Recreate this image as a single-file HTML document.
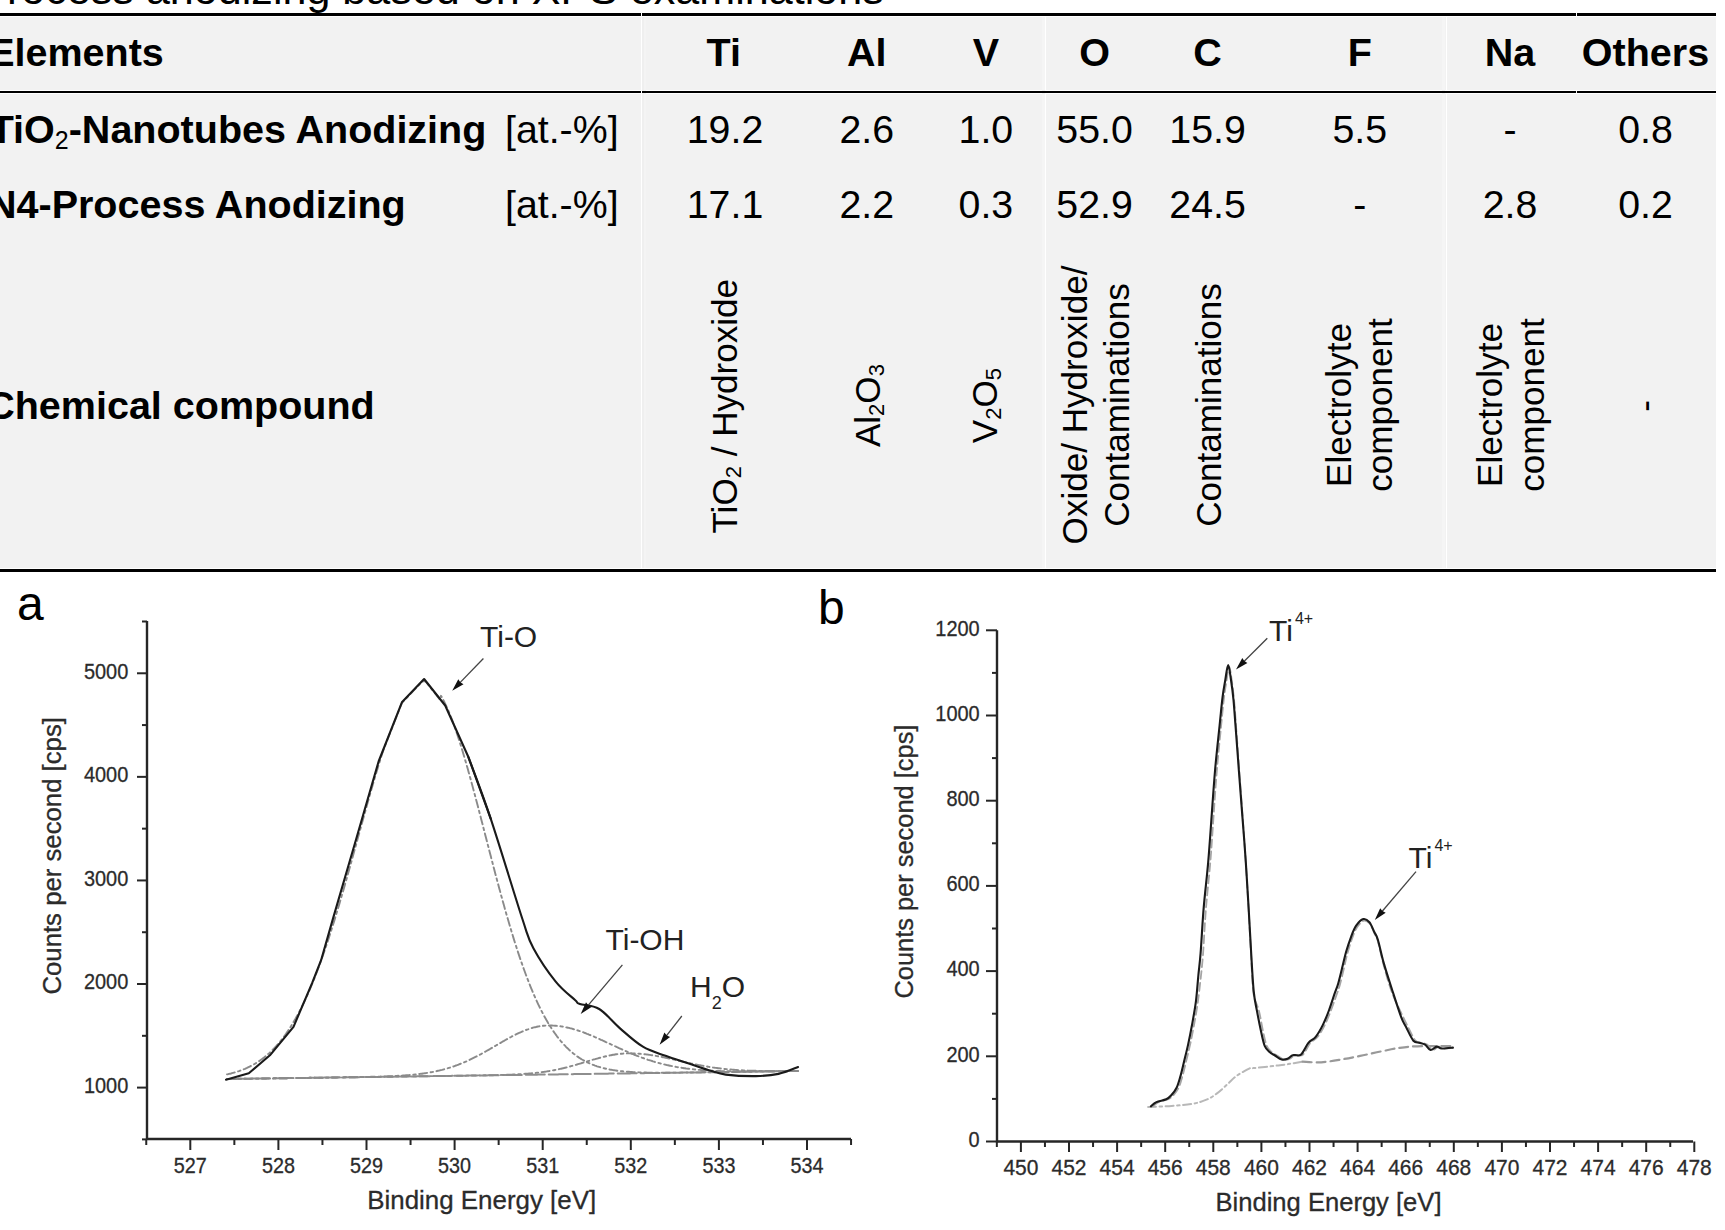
<!DOCTYPE html>
<html><head><meta charset="utf-8"><style>
html,body{margin:0;padding:0;background:#fff;font-family:"Liberation Sans",sans-serif;}
body{width:1725px;height:1230px;overflow:hidden;}
svg{display:block;}
</style></head><body>
<svg width="1725" height="1230" viewBox="0 0 1725 1230">
<rect width="1725" height="1230" fill="#fff"/>
<rect x="0" y="17" width="1716" height="551" fill="#f2f2f2"/>
<rect x="0" y="90" width="1716" height="1" fill="#fff"/>
<rect x="0" y="93" width="1716" height="1" fill="#fff"/>
<rect x="0" y="568" width="1716" height="1" fill="#fff"/>
<rect x="641" y="17" width="1" height="551" fill="#fff"/>
<rect x="1045" y="17" width="1" height="551" fill="#fff"/>
<rect x="1446" y="17" width="1" height="551" fill="#fff"/>
<rect x="642" y="17" width="2" height="551" fill="#efefef"/>
<rect x="644" y="17" width="2" height="551" fill="#f4f4f4"/>
<rect x="1042" y="17" width="3" height="551" fill="#f5f5f5"/>
<rect x="1442" y="17" width="3" height="551" fill="#f5f5f5"/>
<rect x="0" y="13" width="641" height="3" fill="#000"/>
<rect x="642" y="13" width="934" height="3" fill="#000"/>
<rect x="1577" y="13" width="139" height="3" fill="#000"/>
<rect x="0" y="91" width="641" height="2" fill="#000"/>
<rect x="642" y="91" width="934" height="2" fill="#000"/>
<rect x="1577" y="91" width="139" height="2" fill="#000"/>
<rect x="0" y="569" width="1716" height="3" fill="#000"/>
<text x="-21.75" y="3.7" font-family="'Liberation Sans', sans-serif" font-size="43.1" fill="#000">Process anodizing based on XPS examinations</text>
<text x="-11.8" y="66" font-family="'Liberation Sans', sans-serif" font-weight="bold" font-size="39.5" fill="#000">Elements</text>
<text x="723.7" y="66" text-anchor="middle" font-family="'Liberation Sans', sans-serif" font-weight="bold" font-size="39.5" fill="#000">Ti</text>
<text x="866.8" y="66" text-anchor="middle" font-family="'Liberation Sans', sans-serif" font-weight="bold" font-size="39.5" fill="#000">Al</text>
<text x="985.9" y="66" text-anchor="middle" font-family="'Liberation Sans', sans-serif" font-weight="bold" font-size="39.5" fill="#000">V</text>
<text x="1094.6" y="66" text-anchor="middle" font-family="'Liberation Sans', sans-serif" font-weight="bold" font-size="39.5" fill="#000">O</text>
<text x="1207.6" y="66" text-anchor="middle" font-family="'Liberation Sans', sans-serif" font-weight="bold" font-size="39.5" fill="#000">C</text>
<text x="1359.7" y="66" text-anchor="middle" font-family="'Liberation Sans', sans-serif" font-weight="bold" font-size="39.5" fill="#000">F</text>
<text x="1510" y="66" text-anchor="middle" font-family="'Liberation Sans', sans-serif" font-weight="bold" font-size="39.5" fill="#000">Na</text>
<text x="1645.5" y="66" text-anchor="middle" font-family="'Liberation Sans', sans-serif" font-weight="bold" font-size="39.5" fill="#000">Others</text>
<text x="-10.3" y="142.7" font-family="'Liberation Sans', sans-serif" font-weight="bold" font-size="39.5" fill="#000">TiO<tspan font-weight="normal" font-size="25" dy="6">2</tspan><tspan dy="-6">-Nanotubes Anodizing</tspan></text>
<text x="-12" y="218" font-family="'Liberation Sans', sans-serif" font-weight="bold" font-size="39.5" fill="#000">N4-Process Anodizing</text>
<text x="505" y="142.7" font-family="'Liberation Sans', sans-serif" font-size="39.3" fill="#000">[at.-%]</text>
<text x="505" y="218" font-family="'Liberation Sans', sans-serif" font-size="39.3" fill="#000">[at.-%]</text>
<text x="725" y="142.7" text-anchor="middle" font-family="'Liberation Sans', sans-serif" font-size="39.3" fill="#000">19.2</text>
<text x="866.8" y="142.7" text-anchor="middle" font-family="'Liberation Sans', sans-serif" font-size="39.3" fill="#000">2.6</text>
<text x="985.9" y="142.7" text-anchor="middle" font-family="'Liberation Sans', sans-serif" font-size="39.3" fill="#000">1.0</text>
<text x="1094.6" y="142.7" text-anchor="middle" font-family="'Liberation Sans', sans-serif" font-size="39.3" fill="#000">55.0</text>
<text x="1207.6" y="142.7" text-anchor="middle" font-family="'Liberation Sans', sans-serif" font-size="39.3" fill="#000">15.9</text>
<text x="1359.7" y="142.7" text-anchor="middle" font-family="'Liberation Sans', sans-serif" font-size="39.3" fill="#000">5.5</text>
<text x="1510" y="142.7" text-anchor="middle" font-family="'Liberation Sans', sans-serif" font-size="39.3" fill="#000">-</text>
<text x="1645.5" y="142.7" text-anchor="middle" font-family="'Liberation Sans', sans-serif" font-size="39.3" fill="#000">0.8</text>
<text x="725" y="218" text-anchor="middle" font-family="'Liberation Sans', sans-serif" font-size="39.3" fill="#000">17.1</text>
<text x="866.8" y="218" text-anchor="middle" font-family="'Liberation Sans', sans-serif" font-size="39.3" fill="#000">2.2</text>
<text x="985.9" y="218" text-anchor="middle" font-family="'Liberation Sans', sans-serif" font-size="39.3" fill="#000">0.3</text>
<text x="1094.6" y="218" text-anchor="middle" font-family="'Liberation Sans', sans-serif" font-size="39.3" fill="#000">52.9</text>
<text x="1207.6" y="218" text-anchor="middle" font-family="'Liberation Sans', sans-serif" font-size="39.3" fill="#000">24.5</text>
<text x="1359.7" y="218" text-anchor="middle" font-family="'Liberation Sans', sans-serif" font-size="39.3" fill="#000">-</text>
<text x="1510" y="218" text-anchor="middle" font-family="'Liberation Sans', sans-serif" font-size="39.3" fill="#000">2.8</text>
<text x="1645.5" y="218" text-anchor="middle" font-family="'Liberation Sans', sans-serif" font-size="39.3" fill="#000">0.2</text>
<text x="-13.8" y="419.2" font-family="'Liberation Sans', sans-serif" font-weight="bold" font-size="39.5" fill="#000">Chemical compound</text>
<text transform="translate(737.2,406.2) rotate(-90)" x="0" y="0" text-anchor="middle" font-family="'Liberation Sans', sans-serif" font-size="35.1" fill="#000" >TiO<tspan font-size="22" dy="4">2</tspan><tspan dy="-4"> / Hydroxide</tspan></text>
<text transform="translate(880.2,405.6) rotate(-90)" x="0" y="0" text-anchor="middle" font-family="'Liberation Sans', sans-serif" font-size="35.1" fill="#000" >Al<tspan font-size="22" dy="4">2</tspan><tspan dy="-4">O</tspan><tspan font-size="22" dy="4">3</tspan></text>
<text transform="translate(997,405.6) rotate(-90)" x="0" y="0" text-anchor="middle" font-family="'Liberation Sans', sans-serif" font-size="35.1" fill="#000" >V<tspan font-size="22" dy="4">2</tspan><tspan dy="-4">O</tspan><tspan font-size="22" dy="4">5</tspan></text>
<text transform="translate(1087,405) rotate(-90)" x="0" y="0" text-anchor="middle" font-family="'Liberation Sans', sans-serif" font-size="35.1" fill="#000" >Oxide/ Hydroxide/</text>
<text transform="translate(1128.6,405) rotate(-90)" x="0" y="0" text-anchor="middle" font-family="'Liberation Sans', sans-serif" font-size="35.1" fill="#000" >Contaminations</text>
<text transform="translate(1221,405) rotate(-90)" x="0" y="0" text-anchor="middle" font-family="'Liberation Sans', sans-serif" font-size="35.1" fill="#000" >Contaminations</text>
<text transform="translate(1351.3,405) rotate(-90)" x="0" y="0" text-anchor="middle" font-family="'Liberation Sans', sans-serif" font-size="35.1" fill="#000" >Electrolyte</text>
<text transform="translate(1391.6,405) rotate(-90)" x="0" y="0" text-anchor="middle" font-family="'Liberation Sans', sans-serif" font-size="35.1" fill="#000" >component</text>
<text transform="translate(1502,405) rotate(-90)" x="0" y="0" text-anchor="middle" font-family="'Liberation Sans', sans-serif" font-size="35.1" fill="#000" >Electrolyte</text>
<text transform="translate(1543.6,405) rotate(-90)" x="0" y="0" text-anchor="middle" font-family="'Liberation Sans', sans-serif" font-size="35.1" fill="#000" >component</text>
<text transform="translate(1657,406) rotate(-90)" x="0" y="0" text-anchor="middle" font-family="'Liberation Sans', sans-serif" font-size="35.1" fill="#000" >-</text>
<line x1="147.00" y1="621.00" x2="147.00" y2="1140.00" stroke="#262626" stroke-width="2.4" />
<line x1="146.00" y1="1139.00" x2="851.00" y2="1139.00" stroke="#262626" stroke-width="2.4" />
<line x1="142.00" y1="1139.39" x2="147.00" y2="1139.39" stroke="#262626" stroke-width="2" />
<line x1="137.00" y1="1087.60" x2="147.00" y2="1087.60" stroke="#262626" stroke-width="2" />
<text x="128.30" y="1092.90" text-anchor="end" font-family="'Liberation Sans', sans-serif" font-size="22" fill="#2b2b2b" textLength="44.4" lengthAdjust="spacingAndGlyphs" stroke="#2b2b2b" stroke-width="0.3">1000</text>
<line x1="142.00" y1="1035.81" x2="147.00" y2="1035.81" stroke="#262626" stroke-width="2" />
<line x1="137.00" y1="984.02" x2="147.00" y2="984.02" stroke="#262626" stroke-width="2" />
<text x="128.30" y="989.32" text-anchor="end" font-family="'Liberation Sans', sans-serif" font-size="22" fill="#2b2b2b" textLength="44.4" lengthAdjust="spacingAndGlyphs" stroke="#2b2b2b" stroke-width="0.3">2000</text>
<line x1="142.00" y1="932.23" x2="147.00" y2="932.23" stroke="#262626" stroke-width="2" />
<line x1="137.00" y1="880.44" x2="147.00" y2="880.44" stroke="#262626" stroke-width="2" />
<text x="128.30" y="885.74" text-anchor="end" font-family="'Liberation Sans', sans-serif" font-size="22" fill="#2b2b2b" textLength="44.4" lengthAdjust="spacingAndGlyphs" stroke="#2b2b2b" stroke-width="0.3">3000</text>
<line x1="142.00" y1="828.65" x2="147.00" y2="828.65" stroke="#262626" stroke-width="2" />
<line x1="137.00" y1="776.86" x2="147.00" y2="776.86" stroke="#262626" stroke-width="2" />
<text x="128.30" y="782.16" text-anchor="end" font-family="'Liberation Sans', sans-serif" font-size="22" fill="#2b2b2b" textLength="44.4" lengthAdjust="spacingAndGlyphs" stroke="#2b2b2b" stroke-width="0.3">4000</text>
<line x1="142.00" y1="725.07" x2="147.00" y2="725.07" stroke="#262626" stroke-width="2" />
<line x1="137.00" y1="673.28" x2="147.00" y2="673.28" stroke="#262626" stroke-width="2" />
<text x="128.30" y="678.58" text-anchor="end" font-family="'Liberation Sans', sans-serif" font-size="22" fill="#2b2b2b" textLength="44.4" lengthAdjust="spacingAndGlyphs" stroke="#2b2b2b" stroke-width="0.3">5000</text>
<line x1="142.00" y1="621.49" x2="147.00" y2="621.49" stroke="#262626" stroke-width="2" />
<line x1="146.25" y1="1139.00" x2="146.25" y2="1145.00" stroke="#262626" stroke-width="2" />
<line x1="190.30" y1="1139.00" x2="190.30" y2="1150.00" stroke="#262626" stroke-width="2" />
<text x="190.30" y="1172.80" text-anchor="middle" font-family="'Liberation Sans', sans-serif" font-size="22" fill="#2b2b2b" textLength="33" lengthAdjust="spacingAndGlyphs" stroke="#2b2b2b" stroke-width="0.3">527</text>
<line x1="234.35" y1="1139.00" x2="234.35" y2="1145.00" stroke="#262626" stroke-width="2" />
<line x1="278.40" y1="1139.00" x2="278.40" y2="1150.00" stroke="#262626" stroke-width="2" />
<text x="278.40" y="1172.80" text-anchor="middle" font-family="'Liberation Sans', sans-serif" font-size="22" fill="#2b2b2b" textLength="33" lengthAdjust="spacingAndGlyphs" stroke="#2b2b2b" stroke-width="0.3">528</text>
<line x1="322.45" y1="1139.00" x2="322.45" y2="1145.00" stroke="#262626" stroke-width="2" />
<line x1="366.50" y1="1139.00" x2="366.50" y2="1150.00" stroke="#262626" stroke-width="2" />
<text x="366.50" y="1172.80" text-anchor="middle" font-family="'Liberation Sans', sans-serif" font-size="22" fill="#2b2b2b" textLength="33" lengthAdjust="spacingAndGlyphs" stroke="#2b2b2b" stroke-width="0.3">529</text>
<line x1="410.55" y1="1139.00" x2="410.55" y2="1145.00" stroke="#262626" stroke-width="2" />
<line x1="454.60" y1="1139.00" x2="454.60" y2="1150.00" stroke="#262626" stroke-width="2" />
<text x="454.60" y="1172.80" text-anchor="middle" font-family="'Liberation Sans', sans-serif" font-size="22" fill="#2b2b2b" textLength="33" lengthAdjust="spacingAndGlyphs" stroke="#2b2b2b" stroke-width="0.3">530</text>
<line x1="498.65" y1="1139.00" x2="498.65" y2="1145.00" stroke="#262626" stroke-width="2" />
<line x1="542.70" y1="1139.00" x2="542.70" y2="1150.00" stroke="#262626" stroke-width="2" />
<text x="542.70" y="1172.80" text-anchor="middle" font-family="'Liberation Sans', sans-serif" font-size="22" fill="#2b2b2b" textLength="33" lengthAdjust="spacingAndGlyphs" stroke="#2b2b2b" stroke-width="0.3">531</text>
<line x1="586.75" y1="1139.00" x2="586.75" y2="1145.00" stroke="#262626" stroke-width="2" />
<line x1="630.80" y1="1139.00" x2="630.80" y2="1150.00" stroke="#262626" stroke-width="2" />
<text x="630.80" y="1172.80" text-anchor="middle" font-family="'Liberation Sans', sans-serif" font-size="22" fill="#2b2b2b" textLength="33" lengthAdjust="spacingAndGlyphs" stroke="#2b2b2b" stroke-width="0.3">532</text>
<line x1="674.85" y1="1139.00" x2="674.85" y2="1145.00" stroke="#262626" stroke-width="2" />
<line x1="718.90" y1="1139.00" x2="718.90" y2="1150.00" stroke="#262626" stroke-width="2" />
<text x="718.90" y="1172.80" text-anchor="middle" font-family="'Liberation Sans', sans-serif" font-size="22" fill="#2b2b2b" textLength="33" lengthAdjust="spacingAndGlyphs" stroke="#2b2b2b" stroke-width="0.3">533</text>
<line x1="762.95" y1="1139.00" x2="762.95" y2="1145.00" stroke="#262626" stroke-width="2" />
<line x1="807.00" y1="1139.00" x2="807.00" y2="1150.00" stroke="#262626" stroke-width="2" />
<text x="807.00" y="1172.80" text-anchor="middle" font-family="'Liberation Sans', sans-serif" font-size="22" fill="#2b2b2b" textLength="33" lengthAdjust="spacingAndGlyphs" stroke="#2b2b2b" stroke-width="0.3">534</text>
<line x1="851.05" y1="1139.00" x2="851.05" y2="1145.00" stroke="#262626" stroke-width="2" />
<text x="481.70" y="1209.30" text-anchor="middle" font-family="'Liberation Sans', sans-serif" font-size="25.5" fill="#2b2b2b" textLength="229" lengthAdjust="spacingAndGlyphs" stroke="#2b2b2b" stroke-width="0.3">Binding Energy [eV]</text>
<text transform="translate(61.3,855.8) rotate(-90)" text-anchor="middle" font-family="'Liberation Sans', sans-serif" font-size="25.5" fill="#2b2b2b" textLength="277.5" lengthAdjust="spacingAndGlyphs" stroke="#2b2b2b" stroke-width="0.3">Counts per second [cps]</text>
<text x="17.00" y="620.00" text-anchor="start" font-family="'Liberation Sans', sans-serif" font-size="48" fill="#000" >a</text>
<line x1="997.00" y1="630.30" x2="997.00" y2="1142.50" stroke="#262626" stroke-width="2.4" />
<line x1="996.00" y1="1141.50" x2="1693.00" y2="1141.50" stroke="#262626" stroke-width="2.4" />
<line x1="986.00" y1="1141.50" x2="997.00" y2="1141.50" stroke="#262626" stroke-width="2" />
<text x="979.70" y="1146.80" text-anchor="end" font-family="'Liberation Sans', sans-serif" font-size="22" fill="#2b2b2b" textLength="11.1" lengthAdjust="spacingAndGlyphs" stroke="#2b2b2b" stroke-width="0.3">0</text>
<line x1="992.00" y1="1098.90" x2="997.00" y2="1098.90" stroke="#262626" stroke-width="2" />
<line x1="986.00" y1="1056.30" x2="997.00" y2="1056.30" stroke="#262626" stroke-width="2" />
<text x="979.70" y="1061.60" text-anchor="end" font-family="'Liberation Sans', sans-serif" font-size="22" fill="#2b2b2b" textLength="33.3" lengthAdjust="spacingAndGlyphs" stroke="#2b2b2b" stroke-width="0.3">200</text>
<line x1="992.00" y1="1013.70" x2="997.00" y2="1013.70" stroke="#262626" stroke-width="2" />
<line x1="986.00" y1="971.10" x2="997.00" y2="971.10" stroke="#262626" stroke-width="2" />
<text x="979.70" y="976.40" text-anchor="end" font-family="'Liberation Sans', sans-serif" font-size="22" fill="#2b2b2b" textLength="33.3" lengthAdjust="spacingAndGlyphs" stroke="#2b2b2b" stroke-width="0.3">400</text>
<line x1="992.00" y1="928.50" x2="997.00" y2="928.50" stroke="#262626" stroke-width="2" />
<line x1="986.00" y1="885.90" x2="997.00" y2="885.90" stroke="#262626" stroke-width="2" />
<text x="979.70" y="891.20" text-anchor="end" font-family="'Liberation Sans', sans-serif" font-size="22" fill="#2b2b2b" textLength="33.3" lengthAdjust="spacingAndGlyphs" stroke="#2b2b2b" stroke-width="0.3">600</text>
<line x1="992.00" y1="843.30" x2="997.00" y2="843.30" stroke="#262626" stroke-width="2" />
<line x1="986.00" y1="800.70" x2="997.00" y2="800.70" stroke="#262626" stroke-width="2" />
<text x="979.70" y="806.00" text-anchor="end" font-family="'Liberation Sans', sans-serif" font-size="22" fill="#2b2b2b" textLength="33.3" lengthAdjust="spacingAndGlyphs" stroke="#2b2b2b" stroke-width="0.3">800</text>
<line x1="992.00" y1="758.10" x2="997.00" y2="758.10" stroke="#262626" stroke-width="2" />
<line x1="986.00" y1="715.50" x2="997.00" y2="715.50" stroke="#262626" stroke-width="2" />
<text x="979.70" y="720.80" text-anchor="end" font-family="'Liberation Sans', sans-serif" font-size="22" fill="#2b2b2b" textLength="44.4" lengthAdjust="spacingAndGlyphs" stroke="#2b2b2b" stroke-width="0.3">1000</text>
<line x1="992.00" y1="672.90" x2="997.00" y2="672.90" stroke="#262626" stroke-width="2" />
<line x1="986.00" y1="630.30" x2="997.00" y2="630.30" stroke="#262626" stroke-width="2" />
<text x="979.70" y="635.60" text-anchor="end" font-family="'Liberation Sans', sans-serif" font-size="22" fill="#2b2b2b" textLength="44.4" lengthAdjust="spacingAndGlyphs" stroke="#2b2b2b" stroke-width="0.3">1200</text>
<line x1="996.85" y1="1141.50" x2="996.85" y2="1147.00" stroke="#262626" stroke-width="2" />
<line x1="1020.90" y1="1141.50" x2="1020.90" y2="1152.00" stroke="#262626" stroke-width="2" />
<text x="1020.90" y="1175.20" text-anchor="middle" font-family="'Liberation Sans', sans-serif" font-size="22" fill="#2b2b2b" textLength="35" lengthAdjust="spacingAndGlyphs" stroke="#2b2b2b" stroke-width="0.3">450</text>
<line x1="1044.95" y1="1141.50" x2="1044.95" y2="1147.00" stroke="#262626" stroke-width="2" />
<line x1="1069.00" y1="1141.50" x2="1069.00" y2="1152.00" stroke="#262626" stroke-width="2" />
<text x="1069.00" y="1175.20" text-anchor="middle" font-family="'Liberation Sans', sans-serif" font-size="22" fill="#2b2b2b" textLength="35" lengthAdjust="spacingAndGlyphs" stroke="#2b2b2b" stroke-width="0.3">452</text>
<line x1="1093.05" y1="1141.50" x2="1093.05" y2="1147.00" stroke="#262626" stroke-width="2" />
<line x1="1117.10" y1="1141.50" x2="1117.10" y2="1152.00" stroke="#262626" stroke-width="2" />
<text x="1117.10" y="1175.20" text-anchor="middle" font-family="'Liberation Sans', sans-serif" font-size="22" fill="#2b2b2b" textLength="35" lengthAdjust="spacingAndGlyphs" stroke="#2b2b2b" stroke-width="0.3">454</text>
<line x1="1141.15" y1="1141.50" x2="1141.15" y2="1147.00" stroke="#262626" stroke-width="2" />
<line x1="1165.20" y1="1141.50" x2="1165.20" y2="1152.00" stroke="#262626" stroke-width="2" />
<text x="1165.20" y="1175.20" text-anchor="middle" font-family="'Liberation Sans', sans-serif" font-size="22" fill="#2b2b2b" textLength="35" lengthAdjust="spacingAndGlyphs" stroke="#2b2b2b" stroke-width="0.3">456</text>
<line x1="1189.25" y1="1141.50" x2="1189.25" y2="1147.00" stroke="#262626" stroke-width="2" />
<line x1="1213.30" y1="1141.50" x2="1213.30" y2="1152.00" stroke="#262626" stroke-width="2" />
<text x="1213.30" y="1175.20" text-anchor="middle" font-family="'Liberation Sans', sans-serif" font-size="22" fill="#2b2b2b" textLength="35" lengthAdjust="spacingAndGlyphs" stroke="#2b2b2b" stroke-width="0.3">458</text>
<line x1="1237.35" y1="1141.50" x2="1237.35" y2="1147.00" stroke="#262626" stroke-width="2" />
<line x1="1261.40" y1="1141.50" x2="1261.40" y2="1152.00" stroke="#262626" stroke-width="2" />
<text x="1261.40" y="1175.20" text-anchor="middle" font-family="'Liberation Sans', sans-serif" font-size="22" fill="#2b2b2b" textLength="35" lengthAdjust="spacingAndGlyphs" stroke="#2b2b2b" stroke-width="0.3">460</text>
<line x1="1285.45" y1="1141.50" x2="1285.45" y2="1147.00" stroke="#262626" stroke-width="2" />
<line x1="1309.50" y1="1141.50" x2="1309.50" y2="1152.00" stroke="#262626" stroke-width="2" />
<text x="1309.50" y="1175.20" text-anchor="middle" font-family="'Liberation Sans', sans-serif" font-size="22" fill="#2b2b2b" textLength="35" lengthAdjust="spacingAndGlyphs" stroke="#2b2b2b" stroke-width="0.3">462</text>
<line x1="1333.55" y1="1141.50" x2="1333.55" y2="1147.00" stroke="#262626" stroke-width="2" />
<line x1="1357.60" y1="1141.50" x2="1357.60" y2="1152.00" stroke="#262626" stroke-width="2" />
<text x="1357.60" y="1175.20" text-anchor="middle" font-family="'Liberation Sans', sans-serif" font-size="22" fill="#2b2b2b" textLength="35" lengthAdjust="spacingAndGlyphs" stroke="#2b2b2b" stroke-width="0.3">464</text>
<line x1="1381.65" y1="1141.50" x2="1381.65" y2="1147.00" stroke="#262626" stroke-width="2" />
<line x1="1405.70" y1="1141.50" x2="1405.70" y2="1152.00" stroke="#262626" stroke-width="2" />
<text x="1405.70" y="1175.20" text-anchor="middle" font-family="'Liberation Sans', sans-serif" font-size="22" fill="#2b2b2b" textLength="35" lengthAdjust="spacingAndGlyphs" stroke="#2b2b2b" stroke-width="0.3">466</text>
<line x1="1429.75" y1="1141.50" x2="1429.75" y2="1147.00" stroke="#262626" stroke-width="2" />
<line x1="1453.80" y1="1141.50" x2="1453.80" y2="1152.00" stroke="#262626" stroke-width="2" />
<text x="1453.80" y="1175.20" text-anchor="middle" font-family="'Liberation Sans', sans-serif" font-size="22" fill="#2b2b2b" textLength="35" lengthAdjust="spacingAndGlyphs" stroke="#2b2b2b" stroke-width="0.3">468</text>
<line x1="1477.85" y1="1141.50" x2="1477.85" y2="1147.00" stroke="#262626" stroke-width="2" />
<line x1="1501.90" y1="1141.50" x2="1501.90" y2="1152.00" stroke="#262626" stroke-width="2" />
<text x="1501.90" y="1175.20" text-anchor="middle" font-family="'Liberation Sans', sans-serif" font-size="22" fill="#2b2b2b" textLength="35" lengthAdjust="spacingAndGlyphs" stroke="#2b2b2b" stroke-width="0.3">470</text>
<line x1="1525.95" y1="1141.50" x2="1525.95" y2="1147.00" stroke="#262626" stroke-width="2" />
<line x1="1550.00" y1="1141.50" x2="1550.00" y2="1152.00" stroke="#262626" stroke-width="2" />
<text x="1550.00" y="1175.20" text-anchor="middle" font-family="'Liberation Sans', sans-serif" font-size="22" fill="#2b2b2b" textLength="35" lengthAdjust="spacingAndGlyphs" stroke="#2b2b2b" stroke-width="0.3">472</text>
<line x1="1574.05" y1="1141.50" x2="1574.05" y2="1147.00" stroke="#262626" stroke-width="2" />
<line x1="1598.10" y1="1141.50" x2="1598.10" y2="1152.00" stroke="#262626" stroke-width="2" />
<text x="1598.10" y="1175.20" text-anchor="middle" font-family="'Liberation Sans', sans-serif" font-size="22" fill="#2b2b2b" textLength="35" lengthAdjust="spacingAndGlyphs" stroke="#2b2b2b" stroke-width="0.3">474</text>
<line x1="1622.15" y1="1141.50" x2="1622.15" y2="1147.00" stroke="#262626" stroke-width="2" />
<line x1="1646.20" y1="1141.50" x2="1646.20" y2="1152.00" stroke="#262626" stroke-width="2" />
<text x="1646.20" y="1175.20" text-anchor="middle" font-family="'Liberation Sans', sans-serif" font-size="22" fill="#2b2b2b" textLength="35" lengthAdjust="spacingAndGlyphs" stroke="#2b2b2b" stroke-width="0.3">476</text>
<line x1="1670.25" y1="1141.50" x2="1670.25" y2="1147.00" stroke="#262626" stroke-width="2" />
<line x1="1694.30" y1="1141.50" x2="1694.30" y2="1152.00" stroke="#262626" stroke-width="2" />
<text x="1694.30" y="1175.20" text-anchor="middle" font-family="'Liberation Sans', sans-serif" font-size="22" fill="#2b2b2b" textLength="35" lengthAdjust="spacingAndGlyphs" stroke="#2b2b2b" stroke-width="0.3">478</text>
<text x="1328.50" y="1210.80" text-anchor="middle" font-family="'Liberation Sans', sans-serif" font-size="25.5" fill="#2b2b2b" textLength="226" lengthAdjust="spacingAndGlyphs" stroke="#2b2b2b" stroke-width="0.3">Binding Energy [eV]</text>
<text transform="translate(913.3,861.6) rotate(-90)" text-anchor="middle" font-family="'Liberation Sans', sans-serif" font-size="25.5" fill="#2b2b2b" textLength="274" lengthAdjust="spacingAndGlyphs" stroke="#2b2b2b" stroke-width="0.3">Counts per second [cps]</text>
<text x="818.00" y="624.00" text-anchor="start" font-family="'Liberation Sans', sans-serif" font-size="48" fill="#000" >b</text>
<path d="M227.0,1079.0 L228.0,1079.0 L229.0,1079.0 L230.0,1079.0 L231.0,1078.9 L232.0,1078.9 L233.0,1078.9 L234.0,1078.9 L235.0,1078.9 L236.0,1078.9 L237.0,1078.9 L238.0,1078.8 L239.0,1078.8 L240.0,1078.8 L241.0,1078.8 L242.0,1078.8 L243.0,1078.8 L244.0,1078.8 L245.0,1078.7 L246.0,1078.7 L247.0,1078.7 L248.0,1078.7 L249.0,1078.7 L250.0,1078.7 L251.0,1078.7 L252.0,1078.6 L253.0,1078.6 L254.0,1078.6 L255.0,1078.6 L256.0,1078.6 L257.0,1078.6 L258.0,1078.6 L259.0,1078.6 L260.0,1078.5 L261.0,1078.5 L262.0,1078.5 L263.0,1078.5 L264.0,1078.5 L265.0,1078.5 L266.0,1078.5 L267.0,1078.4 L268.0,1078.4 L269.0,1078.4 L270.0,1078.4 L271.0,1078.4 L272.0,1078.4 L273.0,1078.4 L274.0,1078.3 L275.0,1078.3 L276.0,1078.3 L277.0,1078.3 L278.0,1078.3 L279.0,1078.3 L280.0,1078.3 L281.0,1078.2 L282.0,1078.2 L283.0,1078.2 L284.0,1078.2 L285.0,1078.2 L286.0,1078.2 L287.0,1078.2 L288.0,1078.1 L289.0,1078.1 L290.0,1078.1 L291.0,1078.1 L292.0,1078.1 L293.0,1078.1 L294.0,1078.1 L295.0,1078.0 L296.0,1078.0 L297.0,1078.0 L298.0,1078.0 L299.0,1078.0 L300.0,1078.0 L301.0,1078.0 L302.0,1077.9 L303.0,1077.9 L304.0,1077.9 L305.0,1077.9 L306.0,1077.9 L307.0,1077.9 L308.0,1077.9 L309.0,1077.9 L310.0,1077.8 L311.0,1077.8 L312.0,1077.8 L313.0,1077.8 L314.0,1077.8 L315.0,1077.8 L316.0,1077.8 L317.0,1077.7 L318.0,1077.7 L319.0,1077.7 L320.0,1077.7 L321.0,1077.7 L322.0,1077.7 L323.0,1077.7 L324.0,1077.6 L325.0,1077.6 L326.0,1077.6 L327.0,1077.6 L328.0,1077.6 L329.0,1077.6 L330.0,1077.6 L331.0,1077.5 L332.0,1077.5 L333.0,1077.5 L334.0,1077.5 L335.0,1077.5 L336.0,1077.5 L337.0,1077.5 L338.0,1077.4 L339.0,1077.4 L340.0,1077.4 L341.0,1077.4 L342.0,1077.4 L343.0,1077.4 L344.0,1077.4 L345.0,1077.3 L346.0,1077.3 L347.0,1077.3 L348.0,1077.3 L349.0,1077.3 L350.0,1077.3 L351.0,1077.3 L352.0,1077.2 L353.0,1077.2 L354.0,1077.2 L355.0,1077.2 L356.0,1077.2 L357.0,1077.2 L358.0,1077.2 L359.0,1077.2 L360.0,1077.1 L361.0,1077.1 L362.0,1077.1 L363.0,1077.1 L364.0,1077.1 L365.0,1077.1 L366.0,1077.1 L367.0,1077.0 L368.0,1077.0 L369.0,1077.0 L370.0,1077.0 L371.0,1077.0 L372.0,1077.0 L373.0,1077.0 L374.0,1076.9 L375.0,1076.9 L376.0,1076.9 L377.0,1076.9 L378.0,1076.9 L379.0,1076.9 L380.0,1076.9 L381.0,1076.8 L382.0,1076.8 L383.0,1076.8 L384.0,1076.8 L385.0,1076.8 L386.0,1076.8 L387.0,1076.8 L388.0,1076.7 L389.0,1076.7 L390.0,1076.7 L391.0,1076.7 L392.0,1076.7 L393.0,1076.7 L394.0,1076.7 L395.0,1076.6 L396.0,1076.6 L397.0,1076.6 L398.0,1076.6 L399.0,1076.6 L400.0,1076.6 L401.0,1076.6 L402.0,1076.5 L403.0,1076.5 L404.0,1076.5 L405.0,1076.5 L406.0,1076.5 L407.0,1076.5 L408.0,1076.5 L409.0,1076.5 L410.0,1076.4 L411.0,1076.4 L412.0,1076.4 L413.0,1076.4 L414.0,1076.4 L415.0,1076.4 L416.0,1076.4 L417.0,1076.3 L418.0,1076.3 L419.0,1076.3 L420.0,1076.3 L421.0,1076.3 L422.0,1076.3 L423.0,1076.3 L424.0,1076.2 L425.0,1076.2 L426.0,1076.2 L427.0,1076.2 L428.0,1076.2 L429.0,1076.2 L430.0,1076.2 L431.0,1076.1 L432.0,1076.1 L433.0,1076.1 L434.0,1076.1 L435.0,1076.1 L436.0,1076.1 L437.0,1076.1 L438.0,1076.0 L439.0,1076.0 L440.0,1076.0 L441.0,1076.0 L442.0,1076.0 L443.0,1076.0 L444.0,1076.0 L445.0,1075.9 L446.0,1075.9 L447.0,1075.9 L448.0,1075.9 L449.0,1075.9 L450.0,1075.9 L451.0,1075.9 L452.0,1075.8 L453.0,1075.8 L454.0,1075.8 L455.0,1075.8 L456.0,1075.8 L457.0,1075.8 L458.0,1075.8 L459.0,1075.7 L460.0,1075.7 L461.0,1075.7 L462.0,1075.7 L463.0,1075.7 L464.0,1075.7 L465.0,1075.7 L466.0,1075.7 L467.0,1075.6 L468.0,1075.6 L469.0,1075.6 L470.0,1075.6 L471.0,1075.6 L472.0,1075.6 L473.0,1075.6 L474.0,1075.5 L475.0,1075.5 L476.0,1075.5 L477.0,1075.5 L478.0,1075.5 L479.0,1075.5 L480.0,1075.5 L481.0,1075.4 L482.0,1075.4 L483.0,1075.4 L484.0,1075.4 L485.0,1075.4 L486.0,1075.4 L487.0,1075.4 L488.0,1075.3 L489.0,1075.3 L490.0,1075.3 L491.0,1075.3 L492.0,1075.3 L493.0,1075.3 L494.0,1075.3 L495.0,1075.2 L496.0,1075.2 L497.0,1075.2 L498.0,1075.2 L499.0,1075.2 L500.0,1075.2 L501.0,1075.2 L502.0,1075.1 L503.0,1075.1 L504.0,1075.1 L505.0,1075.1 L506.0,1075.1 L507.0,1075.1 L508.0,1075.1 L509.0,1075.0 L510.0,1075.0 L511.0,1075.0 L512.0,1075.0 L513.0,1075.0 L514.0,1075.0 L515.0,1075.0 L516.0,1075.0 L517.0,1074.9 L518.0,1074.9 L519.0,1074.9 L520.0,1074.9 L521.0,1074.9 L522.0,1074.9 L523.0,1074.9 L524.0,1074.8 L525.0,1074.8 L526.0,1074.8 L527.0,1074.8 L528.0,1074.8 L529.0,1074.8 L530.0,1074.8 L531.0,1074.7 L532.0,1074.7 L533.0,1074.7 L534.0,1074.7 L535.0,1074.7 L536.0,1074.7 L537.0,1074.7 L538.0,1074.6 L539.0,1074.6 L540.0,1074.6 L541.0,1074.6 L542.0,1074.6 L543.0,1074.6 L544.0,1074.6 L545.0,1074.5 L546.0,1074.5 L547.0,1074.5 L548.0,1074.5 L549.0,1074.5 L550.0,1074.5 L551.0,1074.5 L552.0,1074.4 L553.0,1074.4 L554.0,1074.4 L555.0,1074.4 L556.0,1074.4 L557.0,1074.4 L558.0,1074.4 L559.0,1074.3 L560.0,1074.3 L561.0,1074.3 L562.0,1074.3 L563.0,1074.3 L564.0,1074.3 L565.0,1074.3 L566.0,1074.3 L567.0,1074.2 L568.0,1074.2 L569.0,1074.2 L570.0,1074.2 L571.0,1074.2 L572.0,1074.2 L573.0,1074.2 L574.0,1074.1 L575.0,1074.1 L576.0,1074.1 L577.0,1074.1 L578.0,1074.1 L579.0,1074.1 L580.0,1074.1 L581.0,1074.0 L582.0,1074.0 L583.0,1074.0 L584.0,1074.0 L585.0,1074.0 L586.0,1074.0 L587.0,1074.0 L588.0,1073.9 L589.0,1073.9 L590.0,1073.9 L591.0,1073.9 L592.0,1073.9 L593.0,1073.9 L594.0,1073.9 L595.0,1073.8 L596.0,1073.8 L597.0,1073.8 L598.0,1073.8 L599.0,1073.8 L600.0,1073.8 L601.0,1073.8 L602.0,1073.7 L603.0,1073.7 L604.0,1073.7 L605.0,1073.7 L606.0,1073.7 L607.0,1073.7 L608.0,1073.7 L609.0,1073.6 L610.0,1073.6 L611.0,1073.6 L612.0,1073.6 L613.0,1073.6 L614.0,1073.6 L615.0,1073.6 L616.0,1073.5 L617.0,1073.5 L618.0,1073.5 L619.0,1073.5 L620.0,1073.5 L621.0,1073.5 L622.0,1073.5 L623.0,1073.5 L624.0,1073.4 L625.0,1073.4 L626.0,1073.4 L627.0,1073.4 L628.0,1073.4 L629.0,1073.4 L630.0,1073.4 L631.0,1073.3 L632.0,1073.3 L633.0,1073.3 L634.0,1073.3 L635.0,1073.3 L636.0,1073.3 L637.0,1073.3 L638.0,1073.2 L639.0,1073.2 L640.0,1073.2 L641.0,1073.2 L642.0,1073.2 L643.0,1073.2 L644.0,1073.2 L645.0,1073.1 L646.0,1073.1 L647.0,1073.1 L648.0,1073.1 L649.0,1073.1 L650.0,1073.1 L651.0,1073.1 L652.0,1073.0 L653.0,1073.0 L654.0,1073.0 L655.0,1073.0 L656.0,1073.0 L657.0,1073.0 L658.0,1073.0 L659.0,1072.9 L660.0,1072.9 L661.0,1072.9 L662.0,1072.9 L663.0,1072.9 L664.0,1072.9 L665.0,1072.9 L666.0,1072.8 L667.0,1072.8 L668.0,1072.8 L669.0,1072.8 L670.0,1072.8 L671.0,1072.8 L672.0,1072.8 L673.0,1072.8 L674.0,1072.7 L675.0,1072.7 L676.0,1072.7 L677.0,1072.7 L678.0,1072.7 L679.0,1072.7 L680.0,1072.7 L681.0,1072.6 L682.0,1072.6 L683.0,1072.6 L684.0,1072.6 L685.0,1072.6 L686.0,1072.6 L687.0,1072.6 L688.0,1072.5 L689.0,1072.5 L690.0,1072.5 L691.0,1072.5 L692.0,1072.5 L693.0,1072.5 L694.0,1072.5 L695.0,1072.4 L696.0,1072.4 L697.0,1072.4 L698.0,1072.4 L699.0,1072.4 L700.0,1072.4 L701.0,1072.4 L702.0,1072.3 L703.0,1072.3 L704.0,1072.3 L705.0,1072.3 L706.0,1072.3 L707.0,1072.3 L708.0,1072.3 L709.0,1072.2 L710.0,1072.2 L711.0,1072.2 L712.0,1072.2 L713.0,1072.2 L714.0,1072.2 L715.0,1072.2 L716.0,1072.1 L717.0,1072.1 L718.0,1072.1 L719.0,1072.1 L720.0,1072.1 L721.0,1072.1 L722.0,1072.1 L723.0,1072.1 L724.0,1072.0 L725.0,1072.0 L726.0,1072.0 L727.0,1072.0 L728.0,1072.0 L729.0,1072.0 L730.0,1072.0 L731.0,1071.9 L732.0,1071.9 L733.0,1071.9 L734.0,1071.9 L735.0,1071.9 L736.0,1071.9 L737.0,1071.9 L738.0,1071.8 L739.0,1071.8 L740.0,1071.8 L741.0,1071.8 L742.0,1071.8 L743.0,1071.8 L744.0,1071.8 L745.0,1071.7 L746.0,1071.7 L747.0,1071.7 L748.0,1071.7 L749.0,1071.7 L750.0,1071.7 L751.0,1071.7 L752.0,1071.6 L753.0,1071.6 L754.0,1071.6 L755.0,1071.6 L756.0,1071.6 L757.0,1071.6 L758.0,1071.6 L759.0,1071.5 L760.0,1071.5 L761.0,1071.5 L762.0,1071.5 L763.0,1071.5 L764.0,1071.5 L765.0,1071.5 L766.0,1071.4 L767.0,1071.4 L768.0,1071.4 L769.0,1071.4 L770.0,1071.4 L771.0,1071.4 L772.0,1071.4 L773.0,1071.4 L774.0,1071.3 L775.0,1071.3 L776.0,1071.3 L777.0,1071.3 L778.0,1071.3 L779.0,1071.3 L780.0,1071.3 L781.0,1071.2 L782.0,1071.2 L783.0,1071.2 L784.0,1071.2 L785.0,1071.2 L786.0,1071.2 L787.0,1071.2 L788.0,1071.1 L789.0,1071.1 L790.0,1071.1 L791.0,1071.1 L792.0,1071.1 L793.0,1071.1 L794.0,1071.1 L795.0,1071.0 L796.0,1071.0 L797.0,1071.0 L798.0,1071.0" fill="none" stroke="#8e8e8e" stroke-width="2" stroke-linejoin="round" stroke-linecap="round" stroke-dasharray="19 4" stroke-linecap="butt"/>
<path d="M227.0,1074.4 L228.0,1074.2 L229.0,1073.9 L230.0,1073.7 L231.0,1073.5 L232.0,1073.2 L233.0,1072.9 L234.0,1072.6 L235.0,1072.3 L236.0,1072.0 L237.0,1071.7 L238.0,1071.4 L239.0,1071.1 L240.0,1070.7 L241.0,1070.3 L242.0,1070.0 L243.0,1069.6 L244.0,1069.2 L245.0,1068.8 L246.0,1068.3 L247.0,1067.9 L248.0,1067.4 L249.0,1066.9 L250.0,1066.5 L251.0,1065.9 L252.0,1065.4 L253.0,1064.9 L254.0,1064.3 L255.0,1063.7 L256.0,1063.1 L257.0,1062.5 L258.0,1061.9 L259.0,1061.2 L260.0,1060.5 L261.0,1059.8 L262.0,1059.1 L263.0,1058.3 L264.0,1057.6 L265.0,1056.8 L266.0,1056.0 L267.0,1055.1 L268.0,1054.2 L269.0,1053.4 L270.0,1052.4 L271.0,1051.5 L272.0,1050.5 L273.0,1049.5 L274.0,1048.5 L275.0,1047.4 L276.0,1046.3 L277.0,1045.2 L278.0,1044.1 L279.0,1042.9 L280.0,1041.7 L281.0,1040.5 L282.0,1039.2 L283.0,1037.9 L284.0,1036.6 L285.0,1035.2 L286.0,1033.8 L287.0,1032.3 L288.0,1030.9 L289.0,1029.4 L290.0,1027.8 L291.0,1026.2 L292.0,1024.6 L293.0,1023.0 L294.0,1021.3 L295.0,1019.6 L296.0,1017.8 L297.0,1016.0 L298.0,1014.2 L299.0,1012.3 L300.0,1010.4 L301.0,1008.4 L302.0,1006.4 L303.0,1004.4 L304.0,1002.3 L305.0,1000.2 L306.0,998.0 L307.0,995.8 L308.0,993.6 L309.0,991.3 L310.0,989.0 L311.0,986.6 L312.0,984.2 L313.0,981.8 L314.0,979.3 L315.0,976.8 L316.0,974.2 L317.0,971.6 L318.0,969.0 L319.0,966.3 L320.0,963.6 L321.0,960.8 L322.0,958.0 L323.0,955.2 L324.0,952.3 L325.0,949.4 L326.0,946.4 L327.0,943.5 L328.0,940.4 L329.0,937.4 L330.0,934.3 L331.0,931.2 L332.0,928.0 L333.0,924.8 L334.0,921.6 L335.0,918.4 L336.0,915.1 L337.0,911.8 L338.0,908.4 L339.0,905.1 L340.0,901.7 L341.0,898.3 L342.0,894.8 L343.0,891.4 L344.0,887.9 L345.0,884.4 L346.0,880.9 L347.0,877.3 L348.0,873.8 L349.0,870.2 L350.0,866.6 L351.0,863.0 L352.0,859.4 L353.0,855.8 L354.0,852.1 L355.0,848.5 L356.0,844.9 L357.0,841.2 L358.0,837.6 L359.0,833.9 L360.0,830.3 L361.0,826.7 L362.0,823.0 L363.0,819.4 L364.0,815.8 L365.0,812.2 L366.0,808.6 L367.0,805.0 L368.0,801.4 L369.0,797.9 L370.0,794.4 L371.0,790.8 L372.0,787.4 L373.0,783.9 L374.0,780.5 L375.0,777.1 L376.0,773.7 L377.0,770.4 L378.0,767.1 L379.0,763.8 L380.0,760.6 L381.0,757.4 L382.0,754.2 L383.0,751.1 L384.0,748.4 L385.0,745.8 L386.0,743.3 L387.0,740.8 L388.0,738.2 L389.0,735.7 L390.0,733.1 L391.0,730.6 L392.0,728.1 L393.0,725.5 L394.0,723.0 L395.0,720.4 L396.0,717.9 L397.0,715.3 L398.0,712.8 L399.0,710.3 L400.0,707.7 L401.0,705.2 L402.0,702.9 L403.0,701.7 L404.0,700.7 L405.0,699.6 L406.0,698.6 L407.0,697.5 L408.0,696.5 L409.0,695.4 L410.0,694.4 L411.0,693.3 L412.0,692.3 L413.0,691.2 L414.0,690.2 L415.0,689.2 L416.0,688.1 L417.0,687.1 L418.0,686.0 L419.0,685.0 L420.0,683.9 L421.0,682.9 L422.0,681.8 L423.0,681.3 L424.0,681.2 L425.0,681.3 L426.0,682.0 L427.0,683.2 L428.0,684.5 L429.0,685.8 L430.0,687.0 L431.0,688.3 L432.0,689.5 L433.0,690.8 L434.0,692.0 L435.0,693.3 L436.0,694.5 L437.0,695.8 L438.0,697.1 L439.0,698.3 L440.0,699.6 L441.0,695.8 L442.0,697.5 L443.0,699.4 L444.0,701.3 L445.0,703.3 L446.0,705.4 L447.0,707.6 L448.0,709.9 L449.0,712.2 L450.0,714.6 L451.0,717.2 L452.0,719.7 L453.0,722.4 L454.0,725.1 L455.0,727.9 L456.0,730.8 L457.0,733.7 L458.0,736.7 L459.0,739.8 L460.0,742.9 L461.0,746.1 L462.0,749.3 L463.0,752.6 L464.0,756.0 L465.0,759.4 L466.0,762.8 L467.0,766.3 L468.0,769.8 L469.0,773.4 L470.0,777.0 L471.0,780.6 L472.0,784.3 L473.0,788.0 L474.0,791.7 L475.0,795.5 L476.0,799.2 L477.0,803.0 L478.0,806.8 L479.0,810.7 L480.0,814.5 L481.0,818.4 L482.0,822.2 L483.0,826.1 L484.0,830.0 L485.0,833.9 L486.0,837.7 L487.0,841.6 L488.0,845.5 L489.0,849.4 L490.0,853.2 L491.0,857.1 L492.0,860.9 L493.0,864.8 L494.0,868.6 L495.0,872.4 L496.0,876.2 L497.0,879.9 L498.0,883.7 L499.0,887.4 L500.0,891.1 L501.0,894.8 L502.0,898.4 L503.0,902.0 L504.0,905.6 L505.0,909.2 L506.0,912.7 L507.0,916.2 L508.0,919.6 L509.0,923.1 L510.0,926.4 L511.0,929.8 L512.0,933.1 L513.0,936.4 L514.0,939.6 L515.0,942.8 L516.0,945.9 L517.0,949.0 L518.0,952.1 L519.0,955.1 L520.0,958.1 L521.0,961.0 L522.0,963.9 L523.0,966.7 L524.0,969.5 L525.0,972.3 L526.0,975.0 L527.0,977.6 L528.0,980.2 L529.0,982.8 L530.0,985.3 L531.0,987.8 L532.0,990.2 L533.0,992.6 L534.0,994.9 L535.0,997.2 L536.0,999.4 L537.0,1001.6 L538.0,1003.8 L539.0,1005.9 L540.0,1007.9 L541.0,1009.9 L542.0,1011.9 L543.0,1013.8 L544.0,1015.7 L545.0,1017.5 L546.0,1019.3 L547.0,1021.1 L548.0,1022.8 L549.0,1024.4 L550.0,1026.0 L551.0,1027.6 L552.0,1029.2 L553.0,1030.7 L554.0,1032.1 L555.0,1033.5 L556.0,1034.9 L557.0,1036.3 L558.0,1037.6 L559.0,1038.8 L560.0,1040.1 L561.0,1041.3 L562.0,1042.4 L563.0,1043.6 L564.0,1044.7 L565.0,1045.7 L566.0,1046.8 L567.0,1047.8 L568.0,1048.7 L569.0,1049.7 L570.0,1050.6 L571.0,1051.5 L572.0,1052.3 L573.0,1053.2 L574.0,1054.0 L575.0,1054.7 L576.0,1055.5 L577.0,1056.2 L578.0,1056.9 L579.0,1057.6 L580.0,1058.2 L581.0,1058.9 L582.0,1059.5 L583.0,1060.0 L584.0,1060.6 L585.0,1061.1 L586.0,1061.7 L587.0,1062.2 L588.0,1062.7 L589.0,1063.1 L590.0,1063.6 L591.0,1064.0 L592.0,1064.4 L593.0,1064.8 L594.0,1065.2 L595.0,1065.6 L596.0,1065.9 L597.0,1066.3 L598.0,1066.6 L599.0,1066.9 L600.0,1067.2 L601.0,1067.5 L602.0,1067.8 L603.0,1068.0 L604.0,1068.3 L605.0,1068.5 L606.0,1068.7 L607.0,1069.0 L608.0,1069.2 L609.0,1069.4 L610.0,1069.6 L611.0,1069.7 L612.0,1069.9 L613.0,1070.1 L614.0,1070.2 L615.0,1070.4 L616.0,1070.5 L617.0,1070.7 L618.0,1070.8 L619.0,1070.9 L620.0,1071.0 L621.0,1071.1 L622.0,1071.2 L623.0,1071.3 L624.0,1071.4 L625.0,1071.5 L626.0,1071.6 L627.0,1071.7 L628.0,1071.8 L629.0,1071.8 L630.0,1071.9 L631.0,1072.0 L632.0,1072.0 L633.0,1072.1 L634.0,1072.1 L635.0,1072.2 L636.0,1072.2 L637.0,1072.3 L638.0,1072.3 L639.0,1072.4 L640.0,1072.4 L641.0,1072.4 L642.0,1072.4 L643.0,1072.5 L644.0,1072.5 L645.0,1072.5 L646.0,1072.5 L647.0,1072.6 L648.0,1072.6 L649.0,1072.6 L650.0,1072.6 L651.0,1072.6 L652.0,1072.6 L653.0,1072.6 L654.0,1072.7 L655.0,1072.7 L656.0,1072.7 L657.0,1072.7 L658.0,1072.7 L659.0,1072.7 L660.0,1072.7 L661.0,1072.7 L662.0,1072.7 L663.0,1072.7 L664.0,1072.7 L665.0,1072.7 L666.0,1072.7 L667.0,1072.7 L668.0,1072.7 L669.0,1072.7 L670.0,1072.7 L671.0,1072.7 L672.0,1072.6 L673.0,1072.6 L674.0,1072.6 L675.0,1072.6 L676.0,1072.6 L677.0,1072.6 L678.0,1072.6 L679.0,1072.6 L680.0,1072.6 L681.0,1072.6 L682.0,1072.6 L683.0,1072.6 L684.0,1072.5 L685.0,1072.5 L686.0,1072.5 L687.0,1072.5 L688.0,1072.5 L689.0,1072.5 L690.0,1072.5 L691.0,1072.5 L692.0,1072.5 L693.0,1072.4 L694.0,1072.4 L695.0,1072.4 L696.0,1072.4 L697.0,1072.4 L698.0,1072.4 L699.0,1072.4 L700.0,1072.4 L701.0,1072.3 L702.0,1072.3 L703.0,1072.3 L704.0,1072.3 L705.0,1072.3 L706.0,1072.3 L707.0,1072.3 L708.0,1072.3 L709.0,1072.2 L710.0,1072.2 L711.0,1072.2 L712.0,1072.2 L713.0,1072.2 L714.0,1072.2 L715.0,1072.2 L716.0,1072.1 L717.0,1072.1 L718.0,1072.1 L719.0,1072.1 L720.0,1072.1 L721.0,1072.1 L722.0,1072.1 L723.0,1072.0 L724.0,1072.0 L725.0,1072.0 L726.0,1072.0 L727.0,1072.0 L728.0,1072.0 L729.0,1072.0 L730.0,1072.0 L731.0,1071.9 L732.0,1071.9 L733.0,1071.9 L734.0,1071.9 L735.0,1071.9 L736.0,1071.9 L737.0,1071.9 L738.0,1071.8 L739.0,1071.8 L740.0,1071.8 L741.0,1071.8 L742.0,1071.8 L743.0,1071.8 L744.0,1071.8 L745.0,1071.7 L746.0,1071.7 L747.0,1071.7 L748.0,1071.7 L749.0,1071.7 L750.0,1071.7 L751.0,1071.7 L752.0,1071.6 L753.0,1071.6 L754.0,1071.6 L755.0,1071.6 L756.0,1071.6 L757.0,1071.6 L758.0,1071.6 L759.0,1071.5 L760.0,1071.5 L761.0,1071.5 L762.0,1071.5 L763.0,1071.5 L764.0,1071.5 L765.0,1071.5 L766.0,1071.4 L767.0,1071.4 L768.0,1071.4 L769.0,1071.4 L770.0,1071.4 L771.0,1071.4 L772.0,1071.4 L773.0,1071.4 L774.0,1071.3 L775.0,1071.3 L776.0,1071.3 L777.0,1071.3 L778.0,1071.3 L779.0,1071.3 L780.0,1071.3 L781.0,1071.2 L782.0,1071.2 L783.0,1071.2 L784.0,1071.2 L785.0,1071.2 L786.0,1071.2 L787.0,1071.2 L788.0,1071.1 L789.0,1071.1 L790.0,1071.1 L791.0,1071.1 L792.0,1071.1 L793.0,1071.1 L794.0,1071.1 L795.0,1071.0 L796.0,1071.0 L797.0,1071.0 L798.0,1071.0" fill="none" stroke="#8a8a8a" stroke-width="1.9" stroke-linejoin="round" stroke-linecap="round" stroke-dasharray="8 3.5 2.5 3.5" stroke-linecap="butt"/>
<path d="M227.0,1079.0 L228.0,1079.0 L229.0,1079.0 L230.0,1079.0 L231.0,1078.9 L232.0,1078.9 L233.0,1078.9 L234.0,1078.9 L235.0,1078.9 L236.0,1078.9 L237.0,1078.9 L238.0,1078.8 L239.0,1078.8 L240.0,1078.8 L241.0,1078.8 L242.0,1078.8 L243.0,1078.8 L244.0,1078.8 L245.0,1078.7 L246.0,1078.7 L247.0,1078.7 L248.0,1078.7 L249.0,1078.7 L250.0,1078.7 L251.0,1078.7 L252.0,1078.6 L253.0,1078.6 L254.0,1078.6 L255.0,1078.6 L256.0,1078.6 L257.0,1078.6 L258.0,1078.6 L259.0,1078.6 L260.0,1078.5 L261.0,1078.5 L262.0,1078.5 L263.0,1078.5 L264.0,1078.5 L265.0,1078.5 L266.0,1078.5 L267.0,1078.4 L268.0,1078.4 L269.0,1078.4 L270.0,1078.4 L271.0,1078.4 L272.0,1078.4 L273.0,1078.4 L274.0,1078.3 L275.0,1078.3 L276.0,1078.3 L277.0,1078.3 L278.0,1078.3 L279.0,1078.3 L280.0,1078.3 L281.0,1078.2 L282.0,1078.2 L283.0,1078.2 L284.0,1078.2 L285.0,1078.2 L286.0,1078.2 L287.0,1078.2 L288.0,1078.1 L289.0,1078.1 L290.0,1078.1 L291.0,1078.1 L292.0,1078.1 L293.0,1078.1 L294.0,1078.1 L295.0,1078.0 L296.0,1078.0 L297.0,1078.0 L298.0,1078.0 L299.0,1078.0 L300.0,1078.0 L301.0,1078.0 L302.0,1077.9 L303.0,1077.9 L304.0,1077.9 L305.0,1077.9 L306.0,1077.9 L307.0,1077.9 L308.0,1077.9 L309.0,1077.8 L310.0,1077.8 L311.0,1077.8 L312.0,1077.8 L313.0,1077.8 L314.0,1077.8 L315.0,1077.8 L316.0,1077.8 L317.0,1077.7 L318.0,1077.7 L319.0,1077.7 L320.0,1077.7 L321.0,1077.7 L322.0,1077.7 L323.0,1077.7 L324.0,1077.6 L325.0,1077.6 L326.0,1077.6 L327.0,1077.6 L328.0,1077.6 L329.0,1077.6 L330.0,1077.5 L331.0,1077.5 L332.0,1077.5 L333.0,1077.5 L334.0,1077.5 L335.0,1077.5 L336.0,1077.5 L337.0,1077.4 L338.0,1077.4 L339.0,1077.4 L340.0,1077.4 L341.0,1077.4 L342.0,1077.4 L343.0,1077.4 L344.0,1077.3 L345.0,1077.3 L346.0,1077.3 L347.0,1077.3 L348.0,1077.3 L349.0,1077.3 L350.0,1077.2 L351.0,1077.2 L352.0,1077.2 L353.0,1077.2 L354.0,1077.2 L355.0,1077.2 L356.0,1077.1 L357.0,1077.1 L358.0,1077.1 L359.0,1077.1 L360.0,1077.1 L361.0,1077.0 L362.0,1077.0 L363.0,1077.0 L364.0,1077.0 L365.0,1077.0 L366.0,1076.9 L367.0,1076.9 L368.0,1076.9 L369.0,1076.9 L370.0,1076.9 L371.0,1076.8 L372.0,1076.8 L373.0,1076.8 L374.0,1076.8 L375.0,1076.7 L376.0,1076.7 L377.0,1076.7 L378.0,1076.7 L379.0,1076.6 L380.0,1076.6 L381.0,1076.6 L382.0,1076.5 L383.0,1076.5 L384.0,1076.5 L385.0,1076.4 L386.0,1076.4 L387.0,1076.4 L388.0,1076.3 L389.0,1076.3 L390.0,1076.2 L391.0,1076.2 L392.0,1076.1 L393.0,1076.1 L394.0,1076.0 L395.0,1076.0 L396.0,1075.9 L397.0,1075.9 L398.0,1075.8 L399.0,1075.8 L400.0,1075.7 L401.0,1075.7 L402.0,1075.6 L403.0,1075.5 L404.0,1075.5 L405.0,1075.4 L406.0,1075.3 L407.0,1075.2 L408.0,1075.2 L409.0,1075.1 L410.0,1075.0 L411.0,1074.9 L412.0,1074.8 L413.0,1074.7 L414.0,1074.6 L415.0,1074.5 L416.0,1074.4 L417.0,1074.3 L418.0,1074.2 L419.0,1074.1 L420.0,1073.9 L421.0,1073.8 L422.0,1073.7 L423.0,1073.5 L424.0,1073.4 L425.0,1073.2 L426.0,1073.1 L427.0,1072.9 L428.0,1072.8 L429.0,1072.6 L430.0,1072.4 L431.0,1072.2 L432.0,1072.1 L433.0,1071.9 L434.0,1071.7 L435.0,1071.5 L436.0,1071.3 L437.0,1071.0 L438.0,1070.8 L439.0,1070.6 L440.0,1070.3 L441.0,1070.1 L442.0,1069.9 L443.0,1069.6 L444.0,1069.3 L445.0,1069.1 L446.0,1068.8 L447.0,1068.5 L448.0,1068.2 L449.0,1067.9 L450.0,1067.6 L451.0,1067.3 L452.0,1066.9 L453.0,1066.6 L454.0,1066.3 L455.0,1065.9 L456.0,1065.5 L457.0,1065.2 L458.0,1064.8 L459.0,1064.4 L460.0,1064.0 L461.0,1063.6 L462.0,1063.2 L463.0,1062.8 L464.0,1062.4 L465.0,1062.0 L466.0,1061.5 L467.0,1061.1 L468.0,1060.6 L469.0,1060.2 L470.0,1059.7 L471.0,1059.2 L472.0,1058.7 L473.0,1058.2 L474.0,1057.7 L475.0,1057.2 L476.0,1056.7 L477.0,1056.2 L478.0,1055.7 L479.0,1055.2 L480.0,1054.6 L481.0,1054.1 L482.0,1053.5 L483.0,1053.0 L484.0,1052.4 L485.0,1051.9 L486.0,1051.3 L487.0,1050.7 L488.0,1050.2 L489.0,1049.6 L490.0,1049.0 L491.0,1048.4 L492.0,1047.8 L493.0,1047.3 L494.0,1046.7 L495.0,1046.1 L496.0,1045.5 L497.0,1044.9 L498.0,1044.3 L499.0,1043.8 L500.0,1043.2 L501.0,1042.6 L502.0,1042.0 L503.0,1041.4 L504.0,1040.9 L505.0,1040.3 L506.0,1039.7 L507.0,1039.2 L508.0,1038.6 L509.0,1038.1 L510.0,1037.5 L511.0,1037.0 L512.0,1036.4 L513.0,1035.9 L514.0,1035.4 L515.0,1034.9 L516.0,1034.4 L517.0,1033.9 L518.0,1033.4 L519.0,1033.0 L520.0,1032.5 L521.0,1032.1 L522.0,1031.6 L523.0,1031.2 L524.0,1030.8 L525.0,1030.4 L526.0,1030.0 L527.0,1029.6 L528.0,1029.3 L529.0,1028.9 L530.0,1028.6 L531.0,1028.3 L532.0,1028.0 L533.0,1027.7 L534.0,1027.4 L535.0,1027.2 L536.0,1027.0 L537.0,1026.7 L538.0,1026.5 L539.0,1026.4 L540.0,1026.2 L541.0,1026.0 L542.0,1025.9 L543.0,1025.8 L544.0,1025.7 L545.0,1025.6 L546.0,1025.6 L547.0,1025.5 L548.0,1025.5 L549.0,1025.5 L550.0,1025.5 L551.0,1025.5 L552.0,1025.5 L553.0,1025.6 L554.0,1025.6 L555.0,1025.7 L556.0,1025.8 L557.0,1025.9 L558.0,1026.0 L559.0,1026.1 L560.0,1026.2 L561.0,1026.4 L562.0,1026.5 L563.0,1026.7 L564.0,1026.9 L565.0,1027.1 L566.0,1027.3 L567.0,1027.5 L568.0,1027.7 L569.0,1027.9 L570.0,1028.2 L571.0,1028.4 L572.0,1028.7 L573.0,1029.0 L574.0,1029.3 L575.0,1029.6 L576.0,1029.9 L577.0,1030.2 L578.0,1030.5 L579.0,1030.8 L580.0,1031.2 L581.0,1031.5 L582.0,1031.9 L583.0,1032.2 L584.0,1032.6 L585.0,1033.0 L586.0,1033.4 L587.0,1033.8 L588.0,1034.1 L589.0,1034.6 L590.0,1035.0 L591.0,1035.4 L592.0,1035.8 L593.0,1036.2 L594.0,1036.6 L595.0,1037.1 L596.0,1037.5 L597.0,1038.0 L598.0,1038.4 L599.0,1038.9 L600.0,1039.3 L601.0,1039.8 L602.0,1040.2 L603.0,1040.7 L604.0,1041.1 L605.0,1041.6 L606.0,1042.1 L607.0,1042.5 L608.0,1043.0 L609.0,1043.4 L610.0,1043.9 L611.0,1044.4 L612.0,1044.8 L613.0,1045.3 L614.0,1045.8 L615.0,1046.2 L616.0,1046.7 L617.0,1047.2 L618.0,1047.6 L619.0,1048.1 L620.0,1048.5 L621.0,1049.0 L622.0,1049.4 L623.0,1049.9 L624.0,1050.3 L625.0,1050.8 L626.0,1051.2 L627.0,1051.6 L628.0,1052.1 L629.0,1052.5 L630.0,1052.9 L631.0,1053.3 L632.0,1053.8 L633.0,1054.2 L634.0,1054.6 L635.0,1055.0 L636.0,1055.4 L637.0,1055.8 L638.0,1056.2 L639.0,1056.5 L640.0,1056.9 L641.0,1057.3 L642.0,1057.7 L643.0,1058.0 L644.0,1058.4 L645.0,1058.7 L646.0,1059.1 L647.0,1059.4 L648.0,1059.8 L649.0,1060.1 L650.0,1060.4 L651.0,1060.7 L652.0,1061.0 L653.0,1061.4 L654.0,1061.7 L655.0,1062.0 L656.0,1062.2 L657.0,1062.5 L658.0,1062.8 L659.0,1063.1 L660.0,1063.3 L661.0,1063.6 L662.0,1063.9 L663.0,1064.1 L664.0,1064.4 L665.0,1064.6 L666.0,1064.8 L667.0,1065.1 L668.0,1065.3 L669.0,1065.5 L670.0,1065.7 L671.0,1065.9 L672.0,1066.1 L673.0,1066.3 L674.0,1066.5 L675.0,1066.7 L676.0,1066.9 L677.0,1067.1 L678.0,1067.2 L679.0,1067.4 L680.0,1067.6 L681.0,1067.7 L682.0,1067.9 L683.0,1068.0 L684.0,1068.2 L685.0,1068.3 L686.0,1068.5 L687.0,1068.6 L688.0,1068.7 L689.0,1068.8 L690.0,1069.0 L691.0,1069.1 L692.0,1069.2 L693.0,1069.3 L694.0,1069.4 L695.0,1069.5 L696.0,1069.6 L697.0,1069.7 L698.0,1069.8 L699.0,1069.9 L700.0,1069.9 L701.0,1070.0 L702.0,1070.1 L703.0,1070.2 L704.0,1070.2 L705.0,1070.3 L706.0,1070.4 L707.0,1070.4 L708.0,1070.5 L709.0,1070.6 L710.0,1070.6 L711.0,1070.7 L712.0,1070.7 L713.0,1070.8 L714.0,1070.8 L715.0,1070.9 L716.0,1070.9 L717.0,1070.9 L718.0,1071.0 L719.0,1071.0 L720.0,1071.0 L721.0,1071.1 L722.0,1071.1 L723.0,1071.1 L724.0,1071.2 L725.0,1071.2 L726.0,1071.2 L727.0,1071.2 L728.0,1071.3 L729.0,1071.3 L730.0,1071.3 L731.0,1071.3 L732.0,1071.3 L733.0,1071.3 L734.0,1071.4 L735.0,1071.4 L736.0,1071.4 L737.0,1071.4 L738.0,1071.4 L739.0,1071.4 L740.0,1071.4 L741.0,1071.4 L742.0,1071.4 L743.0,1071.4 L744.0,1071.4 L745.0,1071.4 L746.0,1071.4 L747.0,1071.4 L748.0,1071.4 L749.0,1071.4 L750.0,1071.4 L751.0,1071.4 L752.0,1071.4 L753.0,1071.4 L754.0,1071.4 L755.0,1071.4 L756.0,1071.4 L757.0,1071.4 L758.0,1071.4 L759.0,1071.4 L760.0,1071.4 L761.0,1071.4 L762.0,1071.4 L763.0,1071.4 L764.0,1071.4 L765.0,1071.4 L766.0,1071.3 L767.0,1071.3 L768.0,1071.3 L769.0,1071.3 L770.0,1071.3 L771.0,1071.3 L772.0,1071.3 L773.0,1071.3 L774.0,1071.3 L775.0,1071.3 L776.0,1071.3 L777.0,1071.2 L778.0,1071.2 L779.0,1071.2 L780.0,1071.2 L781.0,1071.2 L782.0,1071.2 L783.0,1071.2 L784.0,1071.2 L785.0,1071.1 L786.0,1071.1 L787.0,1071.1 L788.0,1071.1 L789.0,1071.1 L790.0,1071.1 L791.0,1071.1 L792.0,1071.1 L793.0,1071.1 L794.0,1071.0 L795.0,1071.0 L796.0,1071.0 L797.0,1071.0 L798.0,1071.0" fill="none" stroke="#8a8a8a" stroke-width="1.9" stroke-linejoin="round" stroke-linecap="round" stroke-dasharray="8 3.5 2.5 3.5" stroke-linecap="butt"/>
<path d="M227.0,1079.0 L228.0,1079.0 L229.0,1079.0 L230.0,1079.0 L231.0,1078.9 L232.0,1078.9 L233.0,1078.9 L234.0,1078.9 L235.0,1078.9 L236.0,1078.9 L237.0,1078.9 L238.0,1078.8 L239.0,1078.8 L240.0,1078.8 L241.0,1078.8 L242.0,1078.8 L243.0,1078.8 L244.0,1078.8 L245.0,1078.7 L246.0,1078.7 L247.0,1078.7 L248.0,1078.7 L249.0,1078.7 L250.0,1078.7 L251.0,1078.7 L252.0,1078.6 L253.0,1078.6 L254.0,1078.6 L255.0,1078.6 L256.0,1078.6 L257.0,1078.6 L258.0,1078.6 L259.0,1078.6 L260.0,1078.5 L261.0,1078.5 L262.0,1078.5 L263.0,1078.5 L264.0,1078.5 L265.0,1078.5 L266.0,1078.5 L267.0,1078.4 L268.0,1078.4 L269.0,1078.4 L270.0,1078.4 L271.0,1078.4 L272.0,1078.4 L273.0,1078.4 L274.0,1078.3 L275.0,1078.3 L276.0,1078.3 L277.0,1078.3 L278.0,1078.3 L279.0,1078.3 L280.0,1078.3 L281.0,1078.2 L282.0,1078.2 L283.0,1078.2 L284.0,1078.2 L285.0,1078.2 L286.0,1078.2 L287.0,1078.2 L288.0,1078.1 L289.0,1078.1 L290.0,1078.1 L291.0,1078.1 L292.0,1078.1 L293.0,1078.1 L294.0,1078.1 L295.0,1078.0 L296.0,1078.0 L297.0,1078.0 L298.0,1078.0 L299.0,1078.0 L300.0,1078.0 L301.0,1078.0 L302.0,1077.9 L303.0,1077.9 L304.0,1077.9 L305.0,1077.9 L306.0,1077.9 L307.0,1077.9 L308.0,1077.9 L309.0,1077.9 L310.0,1077.8 L311.0,1077.8 L312.0,1077.8 L313.0,1077.8 L314.0,1077.8 L315.0,1077.8 L316.0,1077.8 L317.0,1077.7 L318.0,1077.7 L319.0,1077.7 L320.0,1077.7 L321.0,1077.7 L322.0,1077.7 L323.0,1077.7 L324.0,1077.6 L325.0,1077.6 L326.0,1077.6 L327.0,1077.6 L328.0,1077.6 L329.0,1077.6 L330.0,1077.6 L331.0,1077.5 L332.0,1077.5 L333.0,1077.5 L334.0,1077.5 L335.0,1077.5 L336.0,1077.5 L337.0,1077.5 L338.0,1077.4 L339.0,1077.4 L340.0,1077.4 L341.0,1077.4 L342.0,1077.4 L343.0,1077.4 L344.0,1077.4 L345.0,1077.3 L346.0,1077.3 L347.0,1077.3 L348.0,1077.3 L349.0,1077.3 L350.0,1077.3 L351.0,1077.3 L352.0,1077.2 L353.0,1077.2 L354.0,1077.2 L355.0,1077.2 L356.0,1077.2 L357.0,1077.2 L358.0,1077.2 L359.0,1077.2 L360.0,1077.1 L361.0,1077.1 L362.0,1077.1 L363.0,1077.1 L364.0,1077.1 L365.0,1077.1 L366.0,1077.1 L367.0,1077.0 L368.0,1077.0 L369.0,1077.0 L370.0,1077.0 L371.0,1077.0 L372.0,1077.0 L373.0,1077.0 L374.0,1076.9 L375.0,1076.9 L376.0,1076.9 L377.0,1076.9 L378.0,1076.9 L379.0,1076.9 L380.0,1076.9 L381.0,1076.8 L382.0,1076.8 L383.0,1076.8 L384.0,1076.8 L385.0,1076.8 L386.0,1076.8 L387.0,1076.8 L388.0,1076.7 L389.0,1076.7 L390.0,1076.7 L391.0,1076.7 L392.0,1076.7 L393.0,1076.7 L394.0,1076.7 L395.0,1076.6 L396.0,1076.6 L397.0,1076.6 L398.0,1076.6 L399.0,1076.6 L400.0,1076.6 L401.0,1076.6 L402.0,1076.5 L403.0,1076.5 L404.0,1076.5 L405.0,1076.5 L406.0,1076.5 L407.0,1076.5 L408.0,1076.5 L409.0,1076.5 L410.0,1076.4 L411.0,1076.4 L412.0,1076.4 L413.0,1076.4 L414.0,1076.4 L415.0,1076.4 L416.0,1076.4 L417.0,1076.3 L418.0,1076.3 L419.0,1076.3 L420.0,1076.3 L421.0,1076.3 L422.0,1076.3 L423.0,1076.3 L424.0,1076.2 L425.0,1076.2 L426.0,1076.2 L427.0,1076.2 L428.0,1076.2 L429.0,1076.2 L430.0,1076.2 L431.0,1076.1 L432.0,1076.1 L433.0,1076.1 L434.0,1076.1 L435.0,1076.1 L436.0,1076.1 L437.0,1076.1 L438.0,1076.0 L439.0,1076.0 L440.0,1076.0 L441.0,1076.0 L442.0,1076.0 L443.0,1076.0 L444.0,1076.0 L445.0,1075.9 L446.0,1075.9 L447.0,1075.9 L448.0,1075.9 L449.0,1075.9 L450.0,1075.9 L451.0,1075.9 L452.0,1075.8 L453.0,1075.8 L454.0,1075.8 L455.0,1075.8 L456.0,1075.8 L457.0,1075.8 L458.0,1075.8 L459.0,1075.7 L460.0,1075.7 L461.0,1075.7 L462.0,1075.7 L463.0,1075.7 L464.0,1075.7 L465.0,1075.7 L466.0,1075.6 L467.0,1075.6 L468.0,1075.6 L469.0,1075.6 L470.0,1075.6 L471.0,1075.6 L472.0,1075.5 L473.0,1075.5 L474.0,1075.5 L475.0,1075.5 L476.0,1075.5 L477.0,1075.5 L478.0,1075.4 L479.0,1075.4 L480.0,1075.4 L481.0,1075.4 L482.0,1075.4 L483.0,1075.4 L484.0,1075.3 L485.0,1075.3 L486.0,1075.3 L487.0,1075.3 L488.0,1075.3 L489.0,1075.2 L490.0,1075.2 L491.0,1075.2 L492.0,1075.2 L493.0,1075.2 L494.0,1075.1 L495.0,1075.1 L496.0,1075.1 L497.0,1075.1 L498.0,1075.0 L499.0,1075.0 L500.0,1075.0 L501.0,1075.0 L502.0,1074.9 L503.0,1074.9 L504.0,1074.9 L505.0,1074.8 L506.0,1074.8 L507.0,1074.8 L508.0,1074.7 L509.0,1074.7 L510.0,1074.6 L511.0,1074.6 L512.0,1074.6 L513.0,1074.5 L514.0,1074.5 L515.0,1074.4 L516.0,1074.4 L517.0,1074.3 L518.0,1074.3 L519.0,1074.2 L520.0,1074.2 L521.0,1074.1 L522.0,1074.0 L523.0,1074.0 L524.0,1073.9 L525.0,1073.8 L526.0,1073.8 L527.0,1073.7 L528.0,1073.6 L529.0,1073.5 L530.0,1073.4 L531.0,1073.4 L532.0,1073.3 L533.0,1073.2 L534.0,1073.1 L535.0,1073.0 L536.0,1072.9 L537.0,1072.7 L538.0,1072.6 L539.0,1072.5 L540.0,1072.4 L541.0,1072.3 L542.0,1072.1 L543.0,1072.0 L544.0,1071.9 L545.0,1071.7 L546.0,1071.6 L547.0,1071.4 L548.0,1071.2 L549.0,1071.1 L550.0,1070.9 L551.0,1070.7 L552.0,1070.6 L553.0,1070.4 L554.0,1070.2 L555.0,1070.0 L556.0,1069.8 L557.0,1069.6 L558.0,1069.4 L559.0,1069.2 L560.0,1068.9 L561.0,1068.7 L562.0,1068.5 L563.0,1068.3 L564.0,1068.0 L565.0,1067.8 L566.0,1067.5 L567.0,1067.3 L568.0,1067.0 L569.0,1066.8 L570.0,1066.5 L571.0,1066.2 L572.0,1065.9 L573.0,1065.7 L574.0,1065.4 L575.0,1065.1 L576.0,1064.8 L577.0,1064.5 L578.0,1064.2 L579.0,1063.9 L580.0,1063.6 L581.0,1063.3 L582.0,1063.0 L583.0,1062.7 L584.0,1062.4 L585.0,1062.1 L586.0,1061.8 L587.0,1061.5 L588.0,1061.2 L589.0,1060.9 L590.0,1060.6 L591.0,1060.3 L592.0,1060.0 L593.0,1059.7 L594.0,1059.4 L595.0,1059.2 L596.0,1058.9 L597.0,1058.6 L598.0,1058.3 L599.0,1058.0 L600.0,1057.8 L601.0,1057.5 L602.0,1057.2 L603.0,1057.0 L604.0,1056.7 L605.0,1056.5 L606.0,1056.3 L607.0,1056.0 L608.0,1055.8 L609.0,1055.6 L610.0,1055.4 L611.0,1055.2 L612.0,1055.0 L613.0,1054.8 L614.0,1054.7 L615.0,1054.5 L616.0,1054.3 L617.0,1054.2 L618.0,1054.1 L619.0,1054.0 L620.0,1053.9 L621.0,1053.8 L622.0,1053.7 L623.0,1053.6 L624.0,1053.5 L625.0,1053.5 L626.0,1053.4 L627.0,1053.4 L628.0,1053.4 L629.0,1053.4 L630.0,1053.4 L631.0,1053.4 L632.0,1053.4 L633.0,1053.4 L634.0,1053.4 L635.0,1053.5 L636.0,1053.5 L637.0,1053.6 L638.0,1053.6 L639.0,1053.7 L640.0,1053.8 L641.0,1053.9 L642.0,1054.0 L643.0,1054.1 L644.0,1054.2 L645.0,1054.3 L646.0,1054.4 L647.0,1054.5 L648.0,1054.6 L649.0,1054.8 L650.0,1054.9 L651.0,1055.1 L652.0,1055.2 L653.0,1055.4 L654.0,1055.5 L655.0,1055.7 L656.0,1055.9 L657.0,1056.1 L658.0,1056.3 L659.0,1056.4 L660.0,1056.6 L661.0,1056.8 L662.0,1057.0 L663.0,1057.2 L664.0,1057.4 L665.0,1057.7 L666.0,1057.9 L667.0,1058.1 L668.0,1058.3 L669.0,1058.5 L670.0,1058.7 L671.0,1059.0 L672.0,1059.2 L673.0,1059.4 L674.0,1059.6 L675.0,1059.9 L676.0,1060.1 L677.0,1060.3 L678.0,1060.6 L679.0,1060.8 L680.0,1061.0 L681.0,1061.2 L682.0,1061.5 L683.0,1061.7 L684.0,1061.9 L685.0,1062.1 L686.0,1062.4 L687.0,1062.6 L688.0,1062.8 L689.0,1063.0 L690.0,1063.2 L691.0,1063.5 L692.0,1063.7 L693.0,1063.9 L694.0,1064.1 L695.0,1064.3 L696.0,1064.5 L697.0,1064.7 L698.0,1064.9 L699.0,1065.1 L700.0,1065.3 L701.0,1065.5 L702.0,1065.7 L703.0,1065.8 L704.0,1066.0 L705.0,1066.2 L706.0,1066.4 L707.0,1066.5 L708.0,1066.7 L709.0,1066.9 L710.0,1067.0 L711.0,1067.2 L712.0,1067.3 L713.0,1067.5 L714.0,1067.6 L715.0,1067.8 L716.0,1067.9 L717.0,1068.0 L718.0,1068.2 L719.0,1068.3 L720.0,1068.4 L721.0,1068.5 L722.0,1068.6 L723.0,1068.8 L724.0,1068.9 L725.0,1069.0 L726.0,1069.1 L727.0,1069.2 L728.0,1069.3 L729.0,1069.4 L730.0,1069.5 L731.0,1069.5 L732.0,1069.6 L733.0,1069.7 L734.0,1069.8 L735.0,1069.9 L736.0,1069.9 L737.0,1070.0 L738.0,1070.1 L739.0,1070.1 L740.0,1070.2 L741.0,1070.2 L742.0,1070.3 L743.0,1070.4 L744.0,1070.4 L745.0,1070.4 L746.0,1070.5 L747.0,1070.5 L748.0,1070.6 L749.0,1070.6 L750.0,1070.7 L751.0,1070.7 L752.0,1070.7 L753.0,1070.8 L754.0,1070.8 L755.0,1070.8 L756.0,1070.8 L757.0,1070.9 L758.0,1070.9 L759.0,1070.9 L760.0,1070.9 L761.0,1070.9 L762.0,1071.0 L763.0,1071.0 L764.0,1071.0 L765.0,1071.0 L766.0,1071.0 L767.0,1071.0 L768.0,1071.0 L769.0,1071.0 L770.0,1071.0 L771.0,1071.0 L772.0,1071.0 L773.0,1071.1 L774.0,1071.1 L775.0,1071.1 L776.0,1071.1 L777.0,1071.1 L778.0,1071.1 L779.0,1071.1 L780.0,1071.1 L781.0,1071.1 L782.0,1071.0 L783.0,1071.0 L784.0,1071.0 L785.0,1071.0 L786.0,1071.0 L787.0,1071.0 L788.0,1071.0 L789.0,1071.0 L790.0,1071.0 L791.0,1071.0 L792.0,1071.0 L793.0,1071.0 L794.0,1071.0 L795.0,1071.0 L796.0,1071.0 L797.0,1070.9 L798.0,1070.9" fill="none" stroke="#8a8a8a" stroke-width="1.9" stroke-linejoin="round" stroke-linecap="round" stroke-dasharray="8 3.5 2.5 3.5" stroke-linecap="butt"/>
<path d="M226.0,1079.7 L248.8,1073.2 L269.9,1055.3 L293.5,1026.8 L312.2,982.9 L321.1,960.2 L333.2,917.9 L355.4,841.8 L378.6,761.5 L401.9,702.3 L424.1,679.0 L445.2,705.5 L468.5,757.3 L490.7,818.6" fill="none" stroke="#1a1a1a" stroke-width="2.1" stroke-linejoin="round" stroke-linecap="round" />
<path d="M468.5,757.3 C472.2,767.5 481.7,791.6 490.7,818.6 C499.7,845.6 515.3,897.4 522.4,919.0 C529.5,940.6 527.8,937.8 533.4,948.2 C539.0,958.6 548.8,973.0 555.7,981.6 C562.6,990.2 571.0,996.3 575.0,1000.0 C579.0,1003.7 575.8,1002.4 579.8,1003.9 C583.8,1005.4 592.5,1004.9 599.2,1009.0 C606.0,1013.1 613.0,1022.3 620.3,1028.6 C627.6,1034.9 635.4,1042.2 642.9,1046.7 C650.4,1051.2 658.0,1053.0 665.5,1055.8 C673.0,1058.6 680.6,1060.8 688.1,1063.3 C695.6,1065.8 704.4,1068.9 710.7,1070.8 C717.0,1072.7 718.3,1073.7 725.8,1074.6 C733.3,1075.5 747.1,1076.2 755.9,1076.1 C764.7,1076.0 771.5,1075.4 778.5,1073.9 C785.5,1072.4 794.8,1068.2 798.1,1067.0" fill="none" stroke="#1a1a1a" stroke-width="2.1" stroke-linejoin="round" stroke-linecap="round" />
<path d="M1148.1,1107.0 C1152.0,1106.8 1164.3,1106.4 1171.7,1105.9 C1179.1,1105.4 1186.8,1104.8 1192.6,1103.8 C1198.4,1102.8 1202.4,1101.4 1206.5,1099.7 C1210.6,1098.0 1213.5,1096.0 1217.0,1093.4 C1220.5,1090.8 1224.2,1087.2 1227.4,1084.3 C1230.6,1081.4 1232.7,1078.7 1236.4,1076.0 C1240.1,1073.3 1246.9,1069.6 1249.7,1068.3 C1252.5,1067.0 1249.1,1068.5 1253.3,1068.1 C1257.5,1067.7 1269.0,1066.5 1274.8,1065.8 C1280.6,1065.1 1283.5,1064.8 1288.1,1064.1 C1292.7,1063.4 1300.2,1062.1 1302.6,1061.7" fill="none" stroke="#b8b8b8" stroke-width="2" stroke-linejoin="round" stroke-linecap="round" stroke-dasharray="8 3.5 2.5 3.5" stroke-linecap="butt"/>
<path d="M1302.6,1061.7 C1305.7,1061.8 1314.8,1062.7 1321.2,1062.3 C1327.6,1061.9 1334.7,1060.6 1341.2,1059.5 C1347.7,1058.4 1353.6,1057.2 1360.2,1055.9 C1366.8,1054.6 1374.1,1052.8 1380.7,1051.5 C1387.3,1050.2 1393.7,1048.7 1399.8,1047.8 C1405.9,1046.9 1408.6,1046.6 1417.3,1046.3 C1426.0,1046.0 1446.2,1046.0 1452.0,1046.0" fill="none" stroke="#999" stroke-width="2.2" stroke-linejoin="round" stroke-linecap="round" stroke-dasharray="9 5" stroke-linecap="butt"/>
<path d="M1152.9,1106.3 C1153.8,1105.6 1155.9,1103.3 1158.4,1102.1 C1161.0,1100.9 1165.7,1100.5 1168.2,1099.3 C1170.8,1098.1 1172.0,1096.7 1173.7,1094.8 C1175.4,1092.9 1177.2,1090.7 1178.6,1087.8 C1180.0,1084.9 1180.9,1081.5 1182.1,1077.4 C1183.3,1073.4 1184.3,1069.0 1185.6,1063.5 C1186.9,1058.0 1188.7,1051.0 1190.1,1044.6 C1191.5,1038.2 1192.7,1032.2 1194.0,1025.0 C1195.3,1017.8 1196.8,1009.7 1197.9,1001.6 C1199.0,993.5 1200.0,984.3 1200.9,976.5 C1201.7,968.7 1202.1,965.9 1203.0,954.7 C1203.8,943.5 1204.7,924.3 1205.9,909.1 C1207.1,893.9 1208.9,878.8 1210.2,863.6 C1211.5,848.4 1212.4,833.3 1213.4,818.1 C1214.5,802.9 1215.4,787.7 1216.7,772.5 C1217.9,757.3 1219.8,739.3 1221.0,727.0 C1222.2,714.7 1223.0,706.1 1223.9,698.5 C1224.8,690.9 1225.6,686.8 1226.4,681.5 C1227.3,676.2 1228.3,666.6 1229.2,666.6 C1230.1,666.6 1231.0,675.7 1231.9,681.5 C1232.7,687.3 1233.5,693.9 1234.2,701.5 C1234.9,709.1 1235.3,715.2 1236.1,727.0 C1237.0,738.8 1238.3,757.3 1239.4,772.5 C1240.5,787.7 1241.6,802.9 1242.7,818.1 C1243.8,833.3 1244.9,848.4 1245.9,863.6 C1246.9,878.8 1247.8,894.5 1248.6,909.1 C1249.4,923.8 1250.1,937.6 1250.9,951.5 C1251.7,965.4 1252.1,982.8 1253.4,992.6 C1254.8,1002.5 1257.3,1004.3 1258.9,1010.6 C1260.5,1016.9 1261.5,1024.3 1262.8,1030.2 C1264.1,1036.1 1265.2,1042.1 1266.7,1045.8 C1268.2,1049.5 1270.2,1050.7 1271.9,1052.3 C1273.6,1053.9 1275.0,1054.3 1277.0,1055.5 C1279.0,1056.7 1281.6,1058.9 1283.7,1059.4 C1285.8,1060.0 1287.8,1059.5 1289.5,1058.8 C1291.2,1058.1 1293.0,1056.0 1294.2,1055.4 C1295.5,1054.8 1295.5,1055.2 1297.0,1055.1 C1298.5,1054.9 1300.9,1056.5 1303.1,1054.5 C1305.3,1052.5 1308.0,1045.9 1310.4,1042.9 C1312.8,1040.0 1315.3,1039.8 1317.7,1036.8 C1320.1,1033.8 1322.8,1029.1 1325.0,1024.6 C1327.2,1020.1 1329.3,1014.6 1331.1,1010.0 C1332.9,1005.4 1334.3,1001.1 1335.8,996.9 C1337.3,992.7 1338.5,989.6 1339.9,984.7 C1341.3,979.8 1342.8,972.9 1344.1,967.6 C1345.3,962.3 1346.1,957.9 1347.5,953.0 C1348.9,948.1 1350.6,942.6 1352.2,938.3 C1353.8,934.0 1355.0,930.3 1356.9,927.4 C1358.9,924.5 1361.8,921.2 1363.9,920.6 C1366.1,920.0 1368.0,921.6 1369.8,923.7 C1371.5,925.9 1373.1,930.6 1374.5,933.5 C1375.8,936.4 1376.3,935.9 1377.8,941.0 C1379.3,946.1 1381.2,955.9 1383.5,964.4 C1385.8,972.9 1388.6,983.4 1391.9,992.2 C1395.1,1001.0 1400.5,1011.3 1403.2,1017.1 C1405.9,1022.9 1406.1,1023.2 1408.1,1027.1 C1410.1,1031.0 1413.2,1038.1 1415.4,1040.7 C1417.6,1043.3 1419.3,1042.1 1421.3,1042.7 C1423.2,1043.3 1425.2,1043.4 1427.1,1044.6 C1429.0,1045.8 1430.5,1049.7 1432.5,1050.0 C1434.5,1050.3 1436.9,1046.8 1438.8,1046.6 C1440.7,1046.3 1441.0,1048.3 1443.7,1048.5 C1446.4,1048.7 1453.0,1047.8 1454.9,1047.6" fill="none" stroke="#a5a5a5" stroke-width="1.8" stroke-linejoin="round" stroke-linecap="round" stroke-dasharray="8 4" stroke-linecap="butt"/>
<path d="M1150.9,1106.3 C1151.8,1105.6 1153.9,1103.3 1156.4,1102.1 C1159.0,1100.9 1163.7,1100.5 1166.2,1099.3 C1168.8,1098.1 1170.0,1096.7 1171.7,1094.8 C1173.4,1092.9 1175.2,1090.7 1176.6,1087.8 C1178.0,1084.9 1178.9,1081.5 1180.1,1077.4 C1181.3,1073.4 1182.3,1069.0 1183.6,1063.5 C1184.9,1058.0 1186.7,1051.0 1188.1,1044.6 C1189.5,1038.2 1190.7,1032.2 1192.0,1025.0 C1193.3,1017.8 1194.8,1009.9 1195.9,1001.6 C1197.0,993.3 1197.6,983.1 1198.4,975.0 C1199.2,966.9 1199.7,964.4 1200.6,953.2 C1201.5,942.0 1202.4,922.8 1203.7,907.6 C1205.0,892.4 1206.9,877.3 1208.2,862.1 C1209.5,846.9 1210.5,831.8 1211.6,816.6 C1212.7,801.4 1213.7,786.2 1215.0,771.0 C1216.3,755.8 1218.3,737.8 1219.6,725.5 C1220.9,713.2 1221.6,704.6 1222.6,697.0 C1223.5,689.4 1224.4,685.3 1225.3,680.0 C1226.2,674.7 1227.2,665.1 1228.2,665.1 C1229.2,665.1 1230.1,674.2 1231.0,680.0 C1231.9,685.8 1232.8,692.4 1233.5,700.0 C1234.2,707.6 1234.6,713.7 1235.5,725.5 C1236.4,737.3 1237.8,755.8 1238.9,771.0 C1240.1,786.2 1241.2,801.4 1242.4,816.6 C1243.6,831.8 1244.8,846.9 1245.8,862.1 C1246.8,877.3 1247.7,893.0 1248.6,907.6 C1249.5,922.2 1250.2,936.1 1251.0,950.0 C1251.8,963.9 1252.7,981.0 1253.7,991.1 C1254.7,1001.2 1255.7,1004.1 1256.9,1010.6 C1258.1,1017.1 1259.5,1024.3 1260.8,1030.2 C1262.1,1036.1 1263.2,1042.1 1264.7,1045.8 C1266.2,1049.5 1268.2,1050.7 1269.9,1052.3 C1271.6,1053.9 1273.0,1054.3 1275.0,1055.5 C1277.0,1056.7 1279.6,1058.9 1281.7,1059.4 C1283.8,1060.0 1285.8,1059.5 1287.5,1058.8 C1289.2,1058.1 1291.0,1056.0 1292.2,1055.4 C1293.5,1054.8 1293.5,1055.2 1295.0,1055.1 C1296.5,1054.9 1298.9,1056.5 1301.1,1054.5 C1303.3,1052.5 1306.0,1045.9 1308.4,1042.9 C1310.8,1040.0 1313.3,1039.8 1315.7,1036.8 C1318.1,1033.8 1320.8,1029.1 1323.0,1024.6 C1325.2,1020.1 1327.3,1014.9 1329.1,1010.0 C1330.9,1005.1 1332.5,999.9 1334.0,995.4 C1335.5,990.9 1336.9,988.1 1338.3,983.2 C1339.7,978.3 1341.3,971.4 1342.6,966.1 C1343.9,960.8 1344.8,956.4 1346.2,951.5 C1347.6,946.6 1349.5,941.1 1351.1,936.8 C1352.7,932.5 1354.0,928.8 1356.0,925.9 C1358.0,923.0 1361.1,919.7 1363.3,919.1 C1365.5,918.5 1367.6,920.1 1369.4,922.2 C1371.2,924.4 1372.9,929.1 1374.3,932.0 C1375.7,934.9 1376.2,934.4 1377.8,939.5 C1379.4,944.6 1381.3,954.4 1383.7,962.9 C1386.1,971.4 1389.5,981.7 1392.4,990.7 C1395.3,999.7 1398.9,1011.0 1401.2,1017.1 C1403.5,1023.2 1404.1,1023.2 1406.1,1027.1 C1408.1,1031.0 1411.2,1038.1 1413.4,1040.7 C1415.6,1043.3 1417.3,1042.1 1419.3,1042.7 C1421.2,1043.3 1423.2,1043.4 1425.1,1044.6 C1427.0,1045.8 1428.5,1049.7 1430.5,1050.0 C1432.5,1050.3 1434.9,1046.8 1436.8,1046.6 C1438.7,1046.3 1439.0,1048.3 1441.7,1048.5 C1444.4,1048.7 1451.0,1047.8 1452.9,1047.6" fill="none" stroke="#1a1a1a" stroke-width="2.1" stroke-linejoin="round" stroke-linecap="round" />
<text x="480.00" y="646.80" text-anchor="start" font-family="'Liberation Sans', sans-serif" font-size="30" fill="#222" >Ti-O</text>
<line x1="483.40" y1="658.50" x2="458.81" y2="683.88" stroke="#444" stroke-width="1.3" />
<polygon points="452.2,690.7 458.3,679.2 460.3,682.3 463.5,684.2" fill="#111"/>
<text x="605.50" y="950.10" text-anchor="start" font-family="'Liberation Sans', sans-serif" font-size="30" fill="#222" >Ti-OH</text>
<line x1="622.40" y1="964.90" x2="586.84" y2="1006.85" stroke="#444" stroke-width="1.3" />
<polygon points="580.7,1014.1 586.0,1002.2 588.3,1005.2 591.5,1006.9" fill="#111"/>
<text x="690" y="997.4" font-family="'Liberation Sans', sans-serif" font-size="30" fill="#222">H<tspan font-size="18" dy="12">2</tspan><tspan dy="-12">O</tspan></text>
<line x1="681.80" y1="1016.00" x2="665.41" y2="1037.19" stroke="#444" stroke-width="1.3" />
<polygon points="659.6,1044.7 664.4,1032.6 666.8,1035.4 670.1,1037.0" fill="#111"/>
<text x="1269" y="640.8" font-family="'Liberation Sans', sans-serif" font-size="30" fill="#222">Ti<tspan font-size="16" dx="2" dy="-16.5">4+</tspan></text>
<line x1="1267.30" y1="638.20" x2="1242.73" y2="662.69" stroke="#444" stroke-width="1.3" />
<polygon points="1236.0,669.4 1242.3,658.0 1244.3,661.1 1247.4,663.1" fill="#111"/>
<text x="1408.5" y="867.5" font-family="'Liberation Sans', sans-serif" font-size="30" fill="#222">Ti<tspan font-size="16" dx="2" dy="-16.5">4+</tspan></text>
<line x1="1416.00" y1="871.70" x2="1380.97" y2="912.77" stroke="#444" stroke-width="1.3" />
<polygon points="1374.8,920.0 1380.2,908.2 1382.4,911.1 1385.7,912.8" fill="#111"/>
</svg>
</body></html>
